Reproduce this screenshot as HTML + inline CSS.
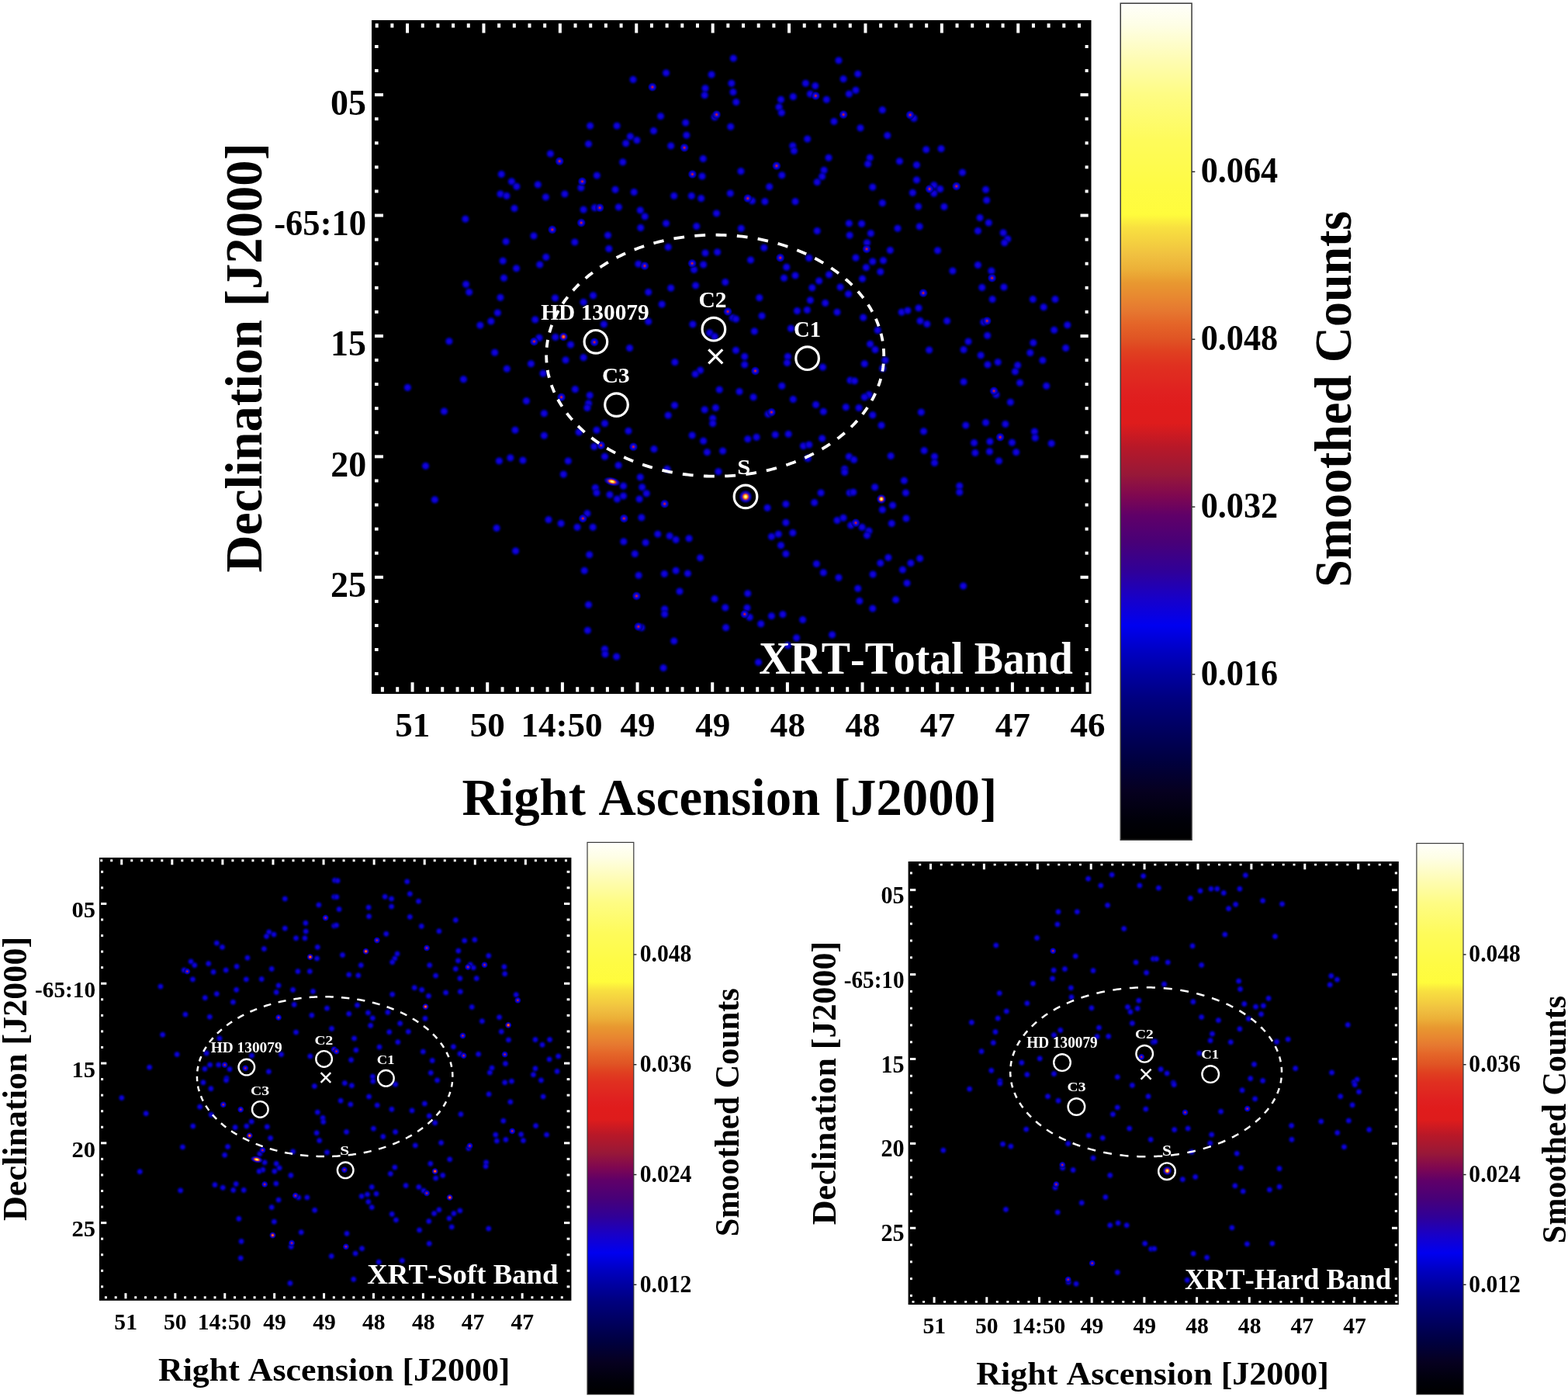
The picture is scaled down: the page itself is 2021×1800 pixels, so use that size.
<!DOCTYPE html>
<html><head><meta charset="utf-8"><title>XRT images</title>
<style>
html,body{margin:0;padding:0;background:#fff;}
body{width:2021px;height:1800px;overflow:hidden;}
svg{display:block;}
text{font-family:"Liberation Serif","Times New Roman",serif;font-weight:bold;font-kerning:none;}
</style></head><body>
<svg xmlns="http://www.w3.org/2000/svg" width="2021" height="1800" viewBox="0 0 2021 1800">
<defs><linearGradient id="cm" x1="0" y1="0" x2="0" y2="1"><stop offset="0.000" stop-color="#fffffa"/><stop offset="0.025" stop-color="#fefee6"/><stop offset="0.066" stop-color="#fefcb4"/><stop offset="0.108" stop-color="#fefc84"/><stop offset="0.164" stop-color="#fefb5a"/><stop offset="0.219" stop-color="#fefb44"/><stop offset="0.252" stop-color="#fffc3c"/><stop offset="0.268" stop-color="#f8e040"/><stop offset="0.285" stop-color="#f4d040"/><stop offset="0.301" stop-color="#f0c040"/><stop offset="0.318" stop-color="#ecb038"/><stop offset="0.334" stop-color="#e89830"/><stop offset="0.351" stop-color="#e88830"/><stop offset="0.367" stop-color="#e67830"/><stop offset="0.384" stop-color="#e46428"/><stop offset="0.401" stop-color="#e05424"/><stop offset="0.416" stop-color="#e04020"/><stop offset="0.433" stop-color="#e03020"/><stop offset="0.450" stop-color="#e02820"/><stop offset="0.466" stop-color="#e02020"/><stop offset="0.482" stop-color="#e01c1c"/><stop offset="0.502" stop-color="#de1c1c"/><stop offset="0.530" stop-color="#b81828"/><stop offset="0.563" stop-color="#981838"/><stop offset="0.588" stop-color="#800850"/><stop offset="0.612" stop-color="#600068"/><stop offset="0.645" stop-color="#480078"/><stop offset="0.679" stop-color="#300098"/><stop offset="0.711" stop-color="#1800c8"/><stop offset="0.744" stop-color="#0000f0"/><stop offset="0.777" stop-color="#0000c0"/><stop offset="0.803" stop-color="#0000a0"/><stop offset="0.831" stop-color="#000080"/><stop offset="0.868" stop-color="#000060"/><stop offset="0.905" stop-color="#000040"/><stop offset="0.942" stop-color="#060020"/><stop offset="0.979" stop-color="#000008"/><stop offset="1.000" stop-color="#000000"/></linearGradient><filter id="bl1" x="-10%" y="-10%" width="120%" height="120%"><feGaussianBlur stdDeviation="1.15"/></filter><filter id="bl2" x="-10%" y="-10%" width="120%" height="120%"><feGaussianBlur stdDeviation="1.05"/></filter><filter id="bl3" x="-10%" y="-10%" width="120%" height="120%"><feGaussianBlur stdDeviation="0.6"/></filter><radialGradient id="db"><stop offset="0" stop-color="#1806e4"/><stop offset="0.4" stop-color="#0c04de"/><stop offset="0.7" stop-color="#00009c" stop-opacity="0.95"/><stop offset="1" stop-color="#000020" stop-opacity="0"/></radialGradient><radialGradient id="dr"><stop offset="0" stop-color="#e8201c"/><stop offset="0.14" stop-color="#b81840"/><stop offset="0.3" stop-color="#3008c8"/><stop offset="0.45" stop-color="#0c04de"/><stop offset="0.7" stop-color="#00009c" stop-opacity="0.95"/><stop offset="1" stop-color="#000020" stop-opacity="0"/></radialGradient><radialGradient id="dy"><stop offset="0" stop-color="#ff8a30"/><stop offset="0.2" stop-color="#f05020"/><stop offset="0.36" stop-color="#a01850"/><stop offset="0.5" stop-color="#1c06d8"/><stop offset="0.72" stop-color="#00009c" stop-opacity="0.95"/><stop offset="1" stop-color="#000020" stop-opacity="0"/></radialGradient><radialGradient id="dw"><stop offset="0" stop-color="#ffffb0"/><stop offset="0.18" stop-color="#ffe040"/><stop offset="0.34" stop-color="#f05020"/><stop offset="0.5" stop-color="#4010c0"/><stop offset="0.72" stop-color="#00009c" stop-opacity="0.95"/><stop offset="1" stop-color="#000020" stop-opacity="0"/></radialGradient></defs>
<rect width="2021" height="1800" fill="#fff"/>
<rect x="479" y="26" width="927.5" height="868" fill="#000"/>
<rect x="483.7" y="30.3" width="4" height="5.3" fill="#fff"/>
<rect x="503.38" y="30.3" width="4" height="5.3" fill="#fff"/>
<rect x="523.06" y="30.3" width="4" height="12.2" fill="#fff"/>
<rect x="542.74" y="30.3" width="4" height="5.3" fill="#fff"/>
<rect x="562.42" y="30.3" width="4" height="5.3" fill="#fff"/>
<rect x="582.1" y="30.3" width="4" height="5.3" fill="#fff"/>
<rect x="601.78" y="30.3" width="4" height="5.3" fill="#fff"/>
<rect x="621.46" y="30.3" width="4" height="12.2" fill="#fff"/>
<rect x="641.14" y="30.3" width="4" height="5.3" fill="#fff"/>
<rect x="660.82" y="30.3" width="4" height="5.3" fill="#fff"/>
<rect x="680.5" y="30.3" width="4" height="5.3" fill="#fff"/>
<rect x="700.18" y="30.3" width="4" height="5.3" fill="#fff"/>
<rect x="719.86" y="30.3" width="4" height="12.2" fill="#fff"/>
<rect x="739.54" y="30.3" width="4" height="5.3" fill="#fff"/>
<rect x="759.22" y="30.3" width="4" height="5.3" fill="#fff"/>
<rect x="778.9" y="30.3" width="4" height="5.3" fill="#fff"/>
<rect x="798.58" y="30.3" width="4" height="5.3" fill="#fff"/>
<rect x="818.26" y="30.3" width="4" height="12.2" fill="#fff"/>
<rect x="837.94" y="30.3" width="4" height="5.3" fill="#fff"/>
<rect x="857.62" y="30.3" width="4" height="5.3" fill="#fff"/>
<rect x="877.3" y="30.3" width="4" height="5.3" fill="#fff"/>
<rect x="896.98" y="30.3" width="4" height="5.3" fill="#fff"/>
<rect x="916.66" y="30.3" width="4" height="12.2" fill="#fff"/>
<rect x="936.34" y="30.3" width="4" height="5.3" fill="#fff"/>
<rect x="956.02" y="30.3" width="4" height="5.3" fill="#fff"/>
<rect x="975.7" y="30.3" width="4" height="5.3" fill="#fff"/>
<rect x="995.38" y="30.3" width="4" height="5.3" fill="#fff"/>
<rect x="1015.06" y="30.3" width="4" height="12.2" fill="#fff"/>
<rect x="1034.74" y="30.3" width="4" height="5.3" fill="#fff"/>
<rect x="1054.42" y="30.3" width="4" height="5.3" fill="#fff"/>
<rect x="1074.1" y="30.3" width="4" height="5.3" fill="#fff"/>
<rect x="1093.78" y="30.3" width="4" height="5.3" fill="#fff"/>
<rect x="1113.46" y="30.3" width="4" height="12.2" fill="#fff"/>
<rect x="1133.14" y="30.3" width="4" height="5.3" fill="#fff"/>
<rect x="1152.82" y="30.3" width="4" height="5.3" fill="#fff"/>
<rect x="1172.5" y="30.3" width="4" height="5.3" fill="#fff"/>
<rect x="1192.18" y="30.3" width="4" height="5.3" fill="#fff"/>
<rect x="1211.86" y="30.3" width="4" height="12.2" fill="#fff"/>
<rect x="1231.54" y="30.3" width="4" height="5.3" fill="#fff"/>
<rect x="1251.22" y="30.3" width="4" height="5.3" fill="#fff"/>
<rect x="1270.9" y="30.3" width="4" height="5.3" fill="#fff"/>
<rect x="1290.58" y="30.3" width="4" height="5.3" fill="#fff"/>
<rect x="1310.26" y="30.3" width="4" height="12.2" fill="#fff"/>
<rect x="1329.94" y="30.3" width="4" height="5.3" fill="#fff"/>
<rect x="1349.62" y="30.3" width="4" height="5.3" fill="#fff"/>
<rect x="1369.3" y="30.3" width="4" height="5.3" fill="#fff"/>
<rect x="1388.98" y="30.3" width="4" height="5.3" fill="#fff"/>
<rect x="490.9" y="885.2" width="4" height="6.3" fill="#fff"/>
<rect x="510.23" y="885.2" width="4" height="6.3" fill="#fff"/>
<rect x="529.57" y="879.2" width="4" height="12.3" fill="#fff"/>
<rect x="548.9" y="885.2" width="4" height="6.3" fill="#fff"/>
<rect x="568.23" y="885.2" width="4" height="6.3" fill="#fff"/>
<rect x="587.56" y="885.2" width="4" height="6.3" fill="#fff"/>
<rect x="606.9" y="885.2" width="4" height="6.3" fill="#fff"/>
<rect x="626.23" y="879.2" width="4" height="12.3" fill="#fff"/>
<rect x="645.56" y="885.2" width="4" height="6.3" fill="#fff"/>
<rect x="664.9" y="885.2" width="4" height="6.3" fill="#fff"/>
<rect x="684.23" y="885.2" width="4" height="6.3" fill="#fff"/>
<rect x="703.56" y="885.2" width="4" height="6.3" fill="#fff"/>
<rect x="722.9" y="879.2" width="4" height="12.3" fill="#fff"/>
<rect x="742.23" y="885.2" width="4" height="6.3" fill="#fff"/>
<rect x="761.56" y="885.2" width="4" height="6.3" fill="#fff"/>
<rect x="780.89" y="885.2" width="4" height="6.3" fill="#fff"/>
<rect x="800.23" y="885.2" width="4" height="6.3" fill="#fff"/>
<rect x="819.56" y="879.2" width="4" height="12.3" fill="#fff"/>
<rect x="838.89" y="885.2" width="4" height="6.3" fill="#fff"/>
<rect x="858.23" y="885.2" width="4" height="6.3" fill="#fff"/>
<rect x="877.56" y="885.2" width="4" height="6.3" fill="#fff"/>
<rect x="896.89" y="885.2" width="4" height="6.3" fill="#fff"/>
<rect x="916.23" y="879.2" width="4" height="12.3" fill="#fff"/>
<rect x="935.56" y="885.2" width="4" height="6.3" fill="#fff"/>
<rect x="954.89" y="885.2" width="4" height="6.3" fill="#fff"/>
<rect x="974.22" y="885.2" width="4" height="6.3" fill="#fff"/>
<rect x="993.56" y="885.2" width="4" height="6.3" fill="#fff"/>
<rect x="1012.89" y="879.2" width="4" height="12.3" fill="#fff"/>
<rect x="1032.22" y="885.2" width="4" height="6.3" fill="#fff"/>
<rect x="1051.56" y="885.2" width="4" height="6.3" fill="#fff"/>
<rect x="1070.89" y="885.2" width="4" height="6.3" fill="#fff"/>
<rect x="1090.22" y="885.2" width="4" height="6.3" fill="#fff"/>
<rect x="1109.56" y="879.2" width="4" height="12.3" fill="#fff"/>
<rect x="1128.89" y="885.2" width="4" height="6.3" fill="#fff"/>
<rect x="1148.22" y="885.2" width="4" height="6.3" fill="#fff"/>
<rect x="1167.55" y="885.2" width="4" height="6.3" fill="#fff"/>
<rect x="1186.89" y="885.2" width="4" height="6.3" fill="#fff"/>
<rect x="1206.22" y="879.2" width="4" height="12.3" fill="#fff"/>
<rect x="1225.55" y="885.2" width="4" height="6.3" fill="#fff"/>
<rect x="1244.89" y="885.2" width="4" height="6.3" fill="#fff"/>
<rect x="1264.22" y="885.2" width="4" height="6.3" fill="#fff"/>
<rect x="1283.55" y="885.2" width="4" height="6.3" fill="#fff"/>
<rect x="1302.89" y="879.2" width="4" height="12.3" fill="#fff"/>
<rect x="1322.22" y="885.2" width="4" height="6.3" fill="#fff"/>
<rect x="1341.55" y="885.2" width="4" height="6.3" fill="#fff"/>
<rect x="1360.88" y="885.2" width="4" height="6.3" fill="#fff"/>
<rect x="1380.22" y="885.2" width="4" height="6.3" fill="#fff"/>
<rect x="1399.55" y="879.2" width="4" height="12.3" fill="#fff"/>
<rect x="483" y="58" width="4.6" height="4" fill="#fff"/>
<rect x="1398.6" y="58" width="4.1" height="4" fill="#fff"/>
<rect x="483" y="89.08" width="4.6" height="4" fill="#fff"/>
<rect x="1398.6" y="89.08" width="4.1" height="4" fill="#fff"/>
<rect x="483" y="120.16" width="11" height="4" fill="#fff"/>
<rect x="1392.5" y="120.16" width="10.2" height="4" fill="#fff"/>
<rect x="483" y="151.24" width="4.6" height="4" fill="#fff"/>
<rect x="1398.6" y="151.24" width="4.1" height="4" fill="#fff"/>
<rect x="483" y="182.32" width="4.6" height="4" fill="#fff"/>
<rect x="1398.6" y="182.32" width="4.1" height="4" fill="#fff"/>
<rect x="483" y="213.4" width="4.6" height="4" fill="#fff"/>
<rect x="1398.6" y="213.4" width="4.1" height="4" fill="#fff"/>
<rect x="483" y="244.48" width="4.6" height="4" fill="#fff"/>
<rect x="1398.6" y="244.48" width="4.1" height="4" fill="#fff"/>
<rect x="483" y="275.56" width="11" height="4" fill="#fff"/>
<rect x="1392.5" y="275.56" width="10.2" height="4" fill="#fff"/>
<rect x="483" y="306.64" width="4.6" height="4" fill="#fff"/>
<rect x="1398.6" y="306.64" width="4.1" height="4" fill="#fff"/>
<rect x="483" y="337.72" width="4.6" height="4" fill="#fff"/>
<rect x="1398.6" y="337.72" width="4.1" height="4" fill="#fff"/>
<rect x="483" y="368.8" width="4.6" height="4" fill="#fff"/>
<rect x="1398.6" y="368.8" width="4.1" height="4" fill="#fff"/>
<rect x="483" y="399.88" width="4.6" height="4" fill="#fff"/>
<rect x="1398.6" y="399.88" width="4.1" height="4" fill="#fff"/>
<rect x="483" y="430.96" width="11" height="4" fill="#fff"/>
<rect x="1392.5" y="430.96" width="10.2" height="4" fill="#fff"/>
<rect x="483" y="462.04" width="4.6" height="4" fill="#fff"/>
<rect x="1398.6" y="462.04" width="4.1" height="4" fill="#fff"/>
<rect x="483" y="493.12" width="4.6" height="4" fill="#fff"/>
<rect x="1398.6" y="493.12" width="4.1" height="4" fill="#fff"/>
<rect x="483" y="524.2" width="4.6" height="4" fill="#fff"/>
<rect x="1398.6" y="524.2" width="4.1" height="4" fill="#fff"/>
<rect x="483" y="555.28" width="4.6" height="4" fill="#fff"/>
<rect x="1398.6" y="555.28" width="4.1" height="4" fill="#fff"/>
<rect x="483" y="586.36" width="11" height="4" fill="#fff"/>
<rect x="1392.5" y="586.36" width="10.2" height="4" fill="#fff"/>
<rect x="483" y="617.44" width="4.6" height="4" fill="#fff"/>
<rect x="1398.6" y="617.44" width="4.1" height="4" fill="#fff"/>
<rect x="483" y="648.52" width="4.6" height="4" fill="#fff"/>
<rect x="1398.6" y="648.52" width="4.1" height="4" fill="#fff"/>
<rect x="483" y="679.6" width="4.6" height="4" fill="#fff"/>
<rect x="1398.6" y="679.6" width="4.1" height="4" fill="#fff"/>
<rect x="483" y="710.68" width="4.6" height="4" fill="#fff"/>
<rect x="1398.6" y="710.68" width="4.1" height="4" fill="#fff"/>
<rect x="483" y="741.76" width="11" height="4" fill="#fff"/>
<rect x="1392.5" y="741.76" width="10.2" height="4" fill="#fff"/>
<rect x="483" y="772.84" width="4.6" height="4" fill="#fff"/>
<rect x="1398.6" y="772.84" width="4.1" height="4" fill="#fff"/>
<rect x="483" y="803.92" width="4.6" height="4" fill="#fff"/>
<rect x="1398.6" y="803.92" width="4.1" height="4" fill="#fff"/>
<rect x="483" y="835" width="4.6" height="4" fill="#fff"/>
<rect x="1398.6" y="835" width="4.1" height="4" fill="#fff"/>
<rect x="483" y="866.08" width="4.6" height="4" fill="#fff"/>
<rect x="1398.6" y="866.08" width="4.1" height="4" fill="#fff"/>
<g filter="url(#bl1)"><circle cx="760.64" cy="162.15" r="6.1" fill="url(#db)"/><circle cx="758.55" cy="185.51" r="6.1" fill="url(#db)"/><circle cx="709.41" cy="198.08" r="6.1" fill="url(#db)"/><circle cx="646.25" cy="224.5" r="6.1" fill="url(#db)"/><circle cx="659.46" cy="233.85" r="6.1" fill="url(#db)"/><circle cx="665.9" cy="240.29" r="6.1" fill="url(#db)"/><circle cx="693.29" cy="237.88" r="6.1" fill="url(#db)"/><circle cx="748.88" cy="241.9" r="6.1" fill="url(#db)"/><circle cx="769.34" cy="226.11" r="6.1" fill="url(#db)"/><circle cx="644.96" cy="249.96" r="6.1" fill="url(#db)"/><circle cx="653.01" cy="252.38" r="6.1" fill="url(#db)"/><circle cx="703.44" cy="253.99" r="6.1" fill="url(#db)"/><circle cx="727.93" cy="249.96" r="6.1" fill="url(#db)"/><circle cx="663" cy="268.49" r="6.1" fill="url(#db)"/><circle cx="752.1" cy="270.1" r="6.1" fill="url(#db)"/><circle cx="766.6" cy="267.68" r="6.1" fill="url(#db)"/><circle cx="599.84" cy="282.19" r="6.1" fill="url(#db)"/><circle cx="687.98" cy="303.94" r="6.1" fill="url(#db)"/><circle cx="652.21" cy="311.19" r="6.1" fill="url(#db)"/><circle cx="740.82" cy="311.99" r="6.1" fill="url(#db)"/><circle cx="783.52" cy="303.13" r="6.1" fill="url(#db)"/><circle cx="648.18" cy="336.14" r="6.1" fill="url(#db)"/><circle cx="665.58" cy="345.81" r="6.1" fill="url(#db)"/><circle cx="695.71" cy="340.97" r="6.1" fill="url(#db)"/><circle cx="703.77" cy="331.31" r="6.1" fill="url(#db)"/><circle cx="649.47" cy="358.21" r="6.1" fill="url(#db)"/><circle cx="600.65" cy="366.27" r="6.1" fill="url(#db)"/><circle cx="604.68" cy="376.42" r="6.1" fill="url(#db)"/><circle cx="644.96" cy="383.35" r="6.1" fill="url(#db)"/><circle cx="641.41" cy="403.01" r="6.1" fill="url(#db)"/><circle cx="632.87" cy="413.96" r="6.1" fill="url(#db)"/><circle cx="618.85" cy="419.12" r="6.1" fill="url(#db)"/><circle cx="689.75" cy="411.87" r="6.1" fill="url(#db)"/><circle cx="715.53" cy="383.99" r="6.1" fill="url(#db)"/><circle cx="752.1" cy="389.31" r="6.1" fill="url(#db)"/><circle cx="764.51" cy="380.77" r="6.1" fill="url(#db)"/><circle cx="778.37" cy="417.83" r="6.1" fill="url(#db)"/><circle cx="784.81" cy="320.51" r="6.1" fill="url(#db)"/><circle cx="578.9" cy="439.74" r="6.1" fill="url(#db)"/><circle cx="694.9" cy="435.23" r="6.1" fill="url(#db)"/><circle cx="715.85" cy="434.43" r="6.1" fill="url(#db)"/><circle cx="735.51" cy="444.09" r="6.1" fill="url(#db)"/><circle cx="637.71" cy="454.24" r="6.1" fill="url(#db)"/><circle cx="684.43" cy="468.74" r="6.1" fill="url(#db)"/><circle cx="729.06" cy="463.91" r="6.1" fill="url(#db)"/><circle cx="752.1" cy="460.69" r="6.1" fill="url(#db)"/><circle cx="653.33" cy="475.19" r="6.1" fill="url(#db)"/><circle cx="700.06" cy="481.15" r="6.1" fill="url(#db)"/><circle cx="597.43" cy="488.72" r="6.1" fill="url(#db)"/><circle cx="525.4" cy="499.36" r="6.1" fill="url(#db)"/><circle cx="741.31" cy="501.61" r="6.1" fill="url(#db)"/><circle cx="760.16" cy="509.35" r="6.1" fill="url(#db)"/><circle cx="758.55" cy="519.82" r="6.1" fill="url(#db)"/><circle cx="756.94" cy="525.46" r="6.1" fill="url(#db)"/><circle cx="678.47" cy="516.6" r="6.1" fill="url(#db)"/><circle cx="572.45" cy="529.97" r="6.1" fill="url(#db)"/><circle cx="701.35" cy="532.71" r="6.1" fill="url(#db)"/><circle cx="779.49" cy="545.6" r="6.1" fill="url(#db)"/><circle cx="663.97" cy="554.14" r="6.1" fill="url(#db)"/><circle cx="701.35" cy="561.23" r="6.1" fill="url(#db)"/><circle cx="746.14" cy="556.88" r="6.1" fill="url(#db)"/><circle cx="769.02" cy="554.14" r="6.1" fill="url(#db)"/><circle cx="765.8" cy="575.41" r="6.1" fill="url(#db)"/><circle cx="779.49" cy="588.3" r="6.1" fill="url(#db)"/><circle cx="643.35" cy="593.94" r="6.1" fill="url(#db)"/><circle cx="657.85" cy="589.91" r="6.1" fill="url(#db)"/><circle cx="673.96" cy="593.13" r="6.1" fill="url(#db)"/><circle cx="732.28" cy="593.94" r="6.1" fill="url(#db)"/><circle cx="548.6" cy="600.38" r="6.1" fill="url(#db)"/><circle cx="726.32" cy="611.16" r="6.1" fill="url(#db)"/><circle cx="767.41" cy="628.56" r="6.1" fill="url(#db)"/><circle cx="769.02" cy="635" r="6.1" fill="url(#db)"/><circle cx="785.94" cy="637.42" r="6.1" fill="url(#db)"/><circle cx="560.37" cy="643.86" r="6.1" fill="url(#db)"/><circle cx="640.12" cy="680.44" r="6.1" fill="url(#db)"/><circle cx="706.99" cy="669.64" r="6.1" fill="url(#db)"/><circle cx="723.1" cy="674.48" r="6.1" fill="url(#db)"/><circle cx="744.05" cy="679.31" r="6.1" fill="url(#db)"/><circle cx="756.94" cy="661.59" r="6.1" fill="url(#db)"/><circle cx="764.19" cy="679.31" r="6.1" fill="url(#db)"/><circle cx="664.61" cy="709.92" r="6.1" fill="url(#db)"/><circle cx="759.68" cy="714.76" r="6.1" fill="url(#db)"/><circle cx="753.23" cy="735.22" r="6.1" fill="url(#db)"/><circle cx="758.55" cy="779.21" r="6.1" fill="url(#db)"/><circle cx="757.42" cy="812.24" r="6.1" fill="url(#db)"/><circle cx="779.49" cy="836.41" r="6.1" fill="url(#db)"/><circle cx="779.98" cy="842.85" r="6.1" fill="url(#db)"/><circle cx="945.29" cy="75.14" r="6.1" fill="url(#db)"/><circle cx="1080.95" cy="77.88" r="6.1" fill="url(#db)"/><circle cx="858.6" cy="93.99" r="6.1" fill="url(#db)"/><circle cx="816.07" cy="102.53" r="6.1" fill="url(#db)"/><circle cx="917.09" cy="96.09" r="6.1" fill="url(#db)"/><circle cx="942.87" cy="107.37" r="6.1" fill="url(#db)"/><circle cx="909.04" cy="113.81" r="6.1" fill="url(#db)"/><circle cx="908.23" cy="122.67" r="6.1" fill="url(#db)"/><circle cx="944.97" cy="118.65" r="6.1" fill="url(#db)"/><circle cx="948.83" cy="131.54" r="6.1" fill="url(#db)"/><circle cx="1006.52" cy="128.31" r="6.1" fill="url(#db)"/><circle cx="1004.1" cy="137.98" r="6.1" fill="url(#db)"/><circle cx="1007.32" cy="145.23" r="6.1" fill="url(#db)"/><circle cx="1022.31" cy="124.61" r="6.1" fill="url(#db)"/><circle cx="1038.42" cy="107.37" r="6.1" fill="url(#db)"/><circle cx="1050.82" cy="110.59" r="6.1" fill="url(#db)"/><circle cx="1044.38" cy="121.06" r="6.1" fill="url(#db)"/><circle cx="1065.33" cy="128.31" r="6.1" fill="url(#db)"/><circle cx="1087.08" cy="101.73" r="6.1" fill="url(#db)"/><circle cx="1094.33" cy="121.06" r="6.1" fill="url(#db)"/><circle cx="1074.99" cy="156.51" r="6.1" fill="url(#db)"/><circle cx="921.12" cy="150.87" r="6.1" fill="url(#db)"/><circle cx="851.52" cy="149.74" r="6.1" fill="url(#db)"/><circle cx="795.12" cy="162.15" r="6.1" fill="url(#db)"/><circle cx="883.74" cy="158.12" r="6.1" fill="url(#db)"/><circle cx="941.74" cy="163.28" r="6.1" fill="url(#db)"/><circle cx="842.49" cy="168.59" r="6.1" fill="url(#db)"/><circle cx="812.36" cy="175.84" r="6.1" fill="url(#db)"/><circle cx="806.72" cy="184.71" r="6.1" fill="url(#db)"/><circle cx="820.9" cy="180.68" r="6.1" fill="url(#db)"/><circle cx="884.87" cy="174.23" r="6.1" fill="url(#db)"/><circle cx="864.73" cy="187.93" r="6.1" fill="url(#db)"/><circle cx="1040.67" cy="179.07" r="6.1" fill="url(#db)"/><circle cx="1021.82" cy="187.93" r="6.1" fill="url(#db)"/><circle cx="1023.43" cy="194.37" r="6.1" fill="url(#db)"/><circle cx="906.3" cy="204.52" r="6.1" fill="url(#db)"/><circle cx="802.7" cy="208.87" r="6.1" fill="url(#db)"/><circle cx="1068.06" cy="203.23" r="6.1" fill="url(#db)"/><circle cx="1007.8" cy="225.79" r="6.1" fill="url(#db)"/><circle cx="954.96" cy="220.64" r="6.1" fill="url(#db)"/><circle cx="905.01" cy="227.08" r="6.1" fill="url(#db)"/><circle cx="1062.1" cy="219.35" r="6.1" fill="url(#db)"/><circle cx="1059.69" cy="227.4" r="6.1" fill="url(#db)"/><circle cx="1053.24" cy="234.65" r="6.1" fill="url(#db)"/><circle cx="991.69" cy="240.62" r="6.1" fill="url(#db)"/><circle cx="793.03" cy="244.32" r="6.1" fill="url(#db)"/><circle cx="817.2" cy="247.54" r="6.1" fill="url(#db)"/><circle cx="868.76" cy="252.38" r="6.1" fill="url(#db)"/><circle cx="891.31" cy="252.38" r="6.1" fill="url(#db)"/><circle cx="903.72" cy="255.6" r="6.1" fill="url(#db)"/><circle cx="941.26" cy="249.15" r="6.1" fill="url(#db)"/><circle cx="969.46" cy="258.82" r="6.1" fill="url(#db)"/><circle cx="985.89" cy="259.63" r="6.1" fill="url(#db)"/><circle cx="1025.04" cy="259.63" r="6.1" fill="url(#db)"/><circle cx="797.38" cy="266.88" r="6.1" fill="url(#db)"/><circle cx="825.25" cy="270.91" r="6.1" fill="url(#db)"/><circle cx="831.21" cy="278.96" r="6.1" fill="url(#db)"/><circle cx="923.54" cy="274.93" r="6.1" fill="url(#db)"/><circle cx="858.6" cy="287.82" r="6.1" fill="url(#db)"/><circle cx="825.74" cy="293.46" r="6.1" fill="url(#db)"/><circle cx="897.76" cy="291.53" r="6.1" fill="url(#db)"/><circle cx="955.28" cy="294.27" r="6.1" fill="url(#db)"/><circle cx="1053.24" cy="297.49" r="6.1" fill="url(#db)"/><circle cx="1094.33" cy="287.82" r="6.1" fill="url(#db)"/><circle cx="1095.13" cy="303.13" r="6.1" fill="url(#db)"/><circle cx="861.18" cy="318.42" r="6.1" fill="url(#db)"/><circle cx="909.04" cy="325.99" r="6.1" fill="url(#db)"/><circle cx="924.67" cy="324.86" r="6.1" fill="url(#db)"/><circle cx="984.76" cy="319.22" r="6.1" fill="url(#db)"/><circle cx="822.84" cy="340.17" r="6.1" fill="url(#db)"/><circle cx="894.54" cy="347.42" r="6.1" fill="url(#db)"/><circle cx="906.62" cy="340.97" r="6.1" fill="url(#db)"/><circle cx="967.52" cy="335.01" r="6.1" fill="url(#db)"/><circle cx="1013.77" cy="344.2" r="6.1" fill="url(#db)"/><circle cx="1010.54" cy="358.21" r="6.1" fill="url(#db)"/><circle cx="1025.04" cy="354.99" r="6.1" fill="url(#db)"/><circle cx="1042.77" cy="332.43" r="6.1" fill="url(#db)"/><circle cx="1068.55" cy="353.86" r="6.1" fill="url(#db)"/><circle cx="1055.66" cy="361.92" r="6.1" fill="url(#db)"/><circle cx="1046.8" cy="370.78" r="6.1" fill="url(#db)"/><circle cx="1083.05" cy="369.98" r="6.1" fill="url(#db)"/><circle cx="1093.52" cy="378.84" r="6.1" fill="url(#db)"/><circle cx="896.63" cy="367.88" r="6.1" fill="url(#db)"/><circle cx="934.82" cy="363.53" r="6.1" fill="url(#db)"/><circle cx="864.73" cy="371.1" r="6.1" fill="url(#db)"/><circle cx="835.73" cy="376.42" r="6.1" fill="url(#db)"/><circle cx="978.8" cy="383.67" r="6.1" fill="url(#db)"/><circle cx="853.13" cy="392.05" r="6.1" fill="url(#db)"/><circle cx="1044.38" cy="386.89" r="6.1" fill="url(#db)"/><circle cx="1063.71" cy="390.44" r="6.1" fill="url(#db)"/><circle cx="1027.46" cy="400.59" r="6.1" fill="url(#db)"/><circle cx="1040.35" cy="399.46" r="6.1" fill="url(#db)"/><circle cx="1079.02" cy="402.2" r="6.1" fill="url(#db)"/><circle cx="944.48" cy="409.45" r="6.1" fill="url(#db)"/><circle cx="948.51" cy="411.06" r="6.1" fill="url(#db)"/><circle cx="982.02" cy="407.03" r="6.1" fill="url(#db)"/><circle cx="835.73" cy="414.28" r="6.1" fill="url(#db)"/><circle cx="892.92" cy="417.83" r="6.1" fill="url(#db)"/><circle cx="972.36" cy="426.85" r="6.1" fill="url(#db)"/><circle cx="1019.41" cy="423.15" r="6.1" fill="url(#db)"/><circle cx="914.68" cy="428.79" r="6.1" fill="url(#db)"/><circle cx="921.12" cy="433.62" r="6.1" fill="url(#db)"/><circle cx="811.56" cy="448.44" r="6.1" fill="url(#db)"/><circle cx="948.51" cy="451.34" r="6.1" fill="url(#db)"/><circle cx="959.79" cy="459.4" r="6.1" fill="url(#db)"/><circle cx="959.79" cy="469.87" r="6.1" fill="url(#db)"/><circle cx="1015.38" cy="459.4" r="6.1" fill="url(#db)"/><circle cx="1014.57" cy="467.46" r="6.1" fill="url(#db)"/><circle cx="1060.49" cy="473.09" r="6.1" fill="url(#db)"/><circle cx="869.88" cy="466.65" r="6.1" fill="url(#db)"/><circle cx="902.59" cy="477.12" r="6.1" fill="url(#db)"/><circle cx="896.15" cy="481.96" r="6.1" fill="url(#db)"/><circle cx="1095.94" cy="490.01" r="6.1" fill="url(#db)"/><circle cx="1007.8" cy="497.26" r="6.1" fill="url(#db)"/><circle cx="927.24" cy="502.1" r="6.1" fill="url(#db)"/><circle cx="953.02" cy="504.51" r="6.1" fill="url(#db)"/><circle cx="971.07" cy="511.76" r="6.1" fill="url(#db)"/><circle cx="1022.31" cy="514.5" r="6.1" fill="url(#db)"/><circle cx="1051.63" cy="521.43" r="6.1" fill="url(#db)"/><circle cx="1061.3" cy="530.29" r="6.1" fill="url(#db)"/><circle cx="1090.3" cy="524.65" r="6.1" fill="url(#db)"/><circle cx="869.56" cy="522.24" r="6.1" fill="url(#db)"/><circle cx="908.23" cy="527.88" r="6.1" fill="url(#db)"/><circle cx="922.41" cy="525.46" r="6.1" fill="url(#db)"/><circle cx="861.18" cy="535.13" r="6.1" fill="url(#db)"/><circle cx="918.7" cy="539.15" r="6.1" fill="url(#db)"/><circle cx="918.7" cy="545.6" r="6.1" fill="url(#db)"/><circle cx="990.08" cy="533.52" r="6.1" fill="url(#db)"/><circle cx="809.95" cy="555.27" r="6.1" fill="url(#db)"/><circle cx="892.12" cy="560.91" r="6.1" fill="url(#db)"/><circle cx="906.62" cy="568.16" r="6.1" fill="url(#db)"/><circle cx="963.82" cy="565.74" r="6.1" fill="url(#db)"/><circle cx="975.1" cy="563.32" r="6.1" fill="url(#db)"/><circle cx="999.27" cy="560.1" r="6.1" fill="url(#db)"/><circle cx="1016.18" cy="559.3" r="6.1" fill="url(#db)"/><circle cx="1059.69" cy="564.93" r="6.1" fill="url(#db)"/><circle cx="1035.52" cy="574.6" r="6.1" fill="url(#db)"/><circle cx="1042.77" cy="572.99" r="6.1" fill="url(#db)"/><circle cx="842.98" cy="578.63" r="6.1" fill="url(#db)"/><circle cx="911.45" cy="582.66" r="6.1" fill="url(#db)"/><circle cx="931.59" cy="581.05" r="6.1" fill="url(#db)"/><circle cx="1041.16" cy="590.71" r="6.1" fill="url(#db)"/><circle cx="1094.33" cy="588.3" r="6.1" fill="url(#db)"/><circle cx="797.06" cy="599.58" r="6.1" fill="url(#db)"/><circle cx="859.89" cy="604.41" r="6.1" fill="url(#db)"/><circle cx="1088.69" cy="604.41" r="6.1" fill="url(#db)"/><circle cx="825.25" cy="614.86" r="6.1" fill="url(#db)"/><circle cx="925.95" cy="607.61" r="6.1" fill="url(#db)"/><circle cx="1088.69" cy="608.42" r="6.1" fill="url(#db)"/><circle cx="803.5" cy="626.14" r="6.1" fill="url(#db)"/><circle cx="827.67" cy="627.75" r="6.1" fill="url(#db)"/><circle cx="833.31" cy="635.81" r="6.1" fill="url(#db)"/><circle cx="795.44" cy="643.06" r="6.1" fill="url(#db)"/><circle cx="803.5" cy="639.03" r="6.1" fill="url(#db)"/><circle cx="824.12" cy="643.06" r="6.1" fill="url(#db)"/><circle cx="826.86" cy="666.9" r="6.1" fill="url(#db)"/><circle cx="847.81" cy="688.17" r="6.1" fill="url(#db)"/><circle cx="863.12" cy="690.59" r="6.1" fill="url(#db)"/><circle cx="871.17" cy="695.42" r="6.1" fill="url(#db)"/><circle cx="888.09" cy="693.81" r="6.1" fill="url(#db)"/><circle cx="803.82" cy="697.84" r="6.1" fill="url(#db)"/><circle cx="832.18" cy="699.13" r="6.1" fill="url(#db)"/><circle cx="818.32" cy="713.63" r="6.1" fill="url(#db)"/><circle cx="902.59" cy="718.79" r="6.1" fill="url(#db)"/><circle cx="823.16" cy="741.34" r="6.1" fill="url(#db)"/><circle cx="856.35" cy="739.41" r="6.1" fill="url(#db)"/><circle cx="871.17" cy="735.22" r="6.1" fill="url(#db)"/><circle cx="886.48" cy="738.93" r="6.1" fill="url(#db)"/><circle cx="876.01" cy="761.97" r="6.1" fill="url(#db)"/><circle cx="921.12" cy="771.63" r="6.1" fill="url(#db)"/><circle cx="934.82" cy="782.91" r="6.1" fill="url(#db)"/><circle cx="963.82" cy="764.71" r="6.1" fill="url(#db)"/><circle cx="963.01" cy="783.23" r="6.1" fill="url(#db)"/><circle cx="966.23" cy="795.32" r="6.1" fill="url(#db)"/><circle cx="980.74" cy="803.86" r="6.1" fill="url(#db)"/><circle cx="994.43" cy="793.71" r="6.1" fill="url(#db)"/><circle cx="1008.93" cy="791.61" r="6.1" fill="url(#db)"/><circle cx="1034.71" cy="798.54" r="6.1" fill="url(#db)"/><circle cx="856.67" cy="784.85" r="6.1" fill="url(#db)"/><circle cx="856.67" cy="791.29" r="6.1" fill="url(#db)"/><circle cx="826.86" cy="808.69" r="6.1" fill="url(#db)"/><circle cx="935.62" cy="808.69" r="6.1" fill="url(#db)"/><circle cx="868.76" cy="825.93" r="6.1" fill="url(#db)"/><circle cx="794.64" cy="846.07" r="6.1" fill="url(#db)"/><circle cx="855.06" cy="860.57" r="6.1" fill="url(#db)"/><circle cx="977.51" cy="853.32" r="6.1" fill="url(#db)"/><circle cx="1015.38" cy="831.57" r="6.1" fill="url(#db)"/><circle cx="1026.66" cy="821.9" r="6.1" fill="url(#db)"/><circle cx="1072.58" cy="817.88" r="6.1" fill="url(#db)"/><circle cx="989.11" cy="654.34" r="6.1" fill="url(#db)"/><circle cx="1012.96" cy="649.5" r="6.1" fill="url(#db)"/><circle cx="1049.7" cy="647.57" r="6.1" fill="url(#db)"/><circle cx="1058.07" cy="635" r="6.1" fill="url(#db)"/><circle cx="1095.13" cy="635" r="6.1" fill="url(#db)"/><circle cx="1012.96" cy="673.35" r="6.1" fill="url(#db)"/><circle cx="1021.82" cy="686.56" r="6.1" fill="url(#db)"/><circle cx="994.43" cy="691.4" r="6.1" fill="url(#db)"/><circle cx="1003.29" cy="688.17" r="6.1" fill="url(#db)"/><circle cx="1006.52" cy="702.67" r="6.1" fill="url(#db)"/><circle cx="1012.96" cy="713.63" r="6.1" fill="url(#db)"/><circle cx="1079.02" cy="670.45" r="6.1" fill="url(#db)"/><circle cx="1087.08" cy="667.23" r="6.1" fill="url(#db)"/><circle cx="1096.74" cy="676.89" r="6.1" fill="url(#db)"/><circle cx="1052.44" cy="726.52" r="6.1" fill="url(#db)"/><circle cx="1061.3" cy="737.8" r="6.1" fill="url(#db)"/><circle cx="1080.95" cy="744.24" r="6.1" fill="url(#db)"/><circle cx="1105.77" cy="95.28" r="6.1" fill="url(#db)"/><circle cx="1103.03" cy="116.23" r="6.1" fill="url(#db)"/><circle cx="1137.35" cy="141.69" r="6.1" fill="url(#db)"/><circle cx="1177.95" cy="152.48" r="6.1" fill="url(#db)"/><circle cx="1108.99" cy="164.89" r="6.1" fill="url(#db)"/><circle cx="1143.79" cy="174.56" r="6.1" fill="url(#db)"/><circle cx="1193.74" cy="192.76" r="6.1" fill="url(#db)"/><circle cx="1213.07" cy="191.63" r="6.1" fill="url(#db)"/><circle cx="1121.23" cy="203.23" r="6.1" fill="url(#db)"/><circle cx="1118.66" cy="211.29" r="6.1" fill="url(#db)"/><circle cx="1159.42" cy="207.75" r="6.1" fill="url(#db)"/><circle cx="1181.49" cy="212.58" r="6.1" fill="url(#db)"/><circle cx="1240.47" cy="222.25" r="6.1" fill="url(#db)"/><circle cx="1181.49" cy="231.91" r="6.1" fill="url(#db)"/><circle cx="1124.78" cy="241.1" r="6.1" fill="url(#db)"/><circle cx="1176.34" cy="248.35" r="6.1" fill="url(#db)"/><circle cx="1203.73" cy="238.68" r="6.1" fill="url(#db)"/><circle cx="1211.79" cy="243.52" r="6.1" fill="url(#db)"/><circle cx="1203.73" cy="249.15" r="6.1" fill="url(#db)"/><circle cx="1270.6" cy="244.32" r="6.1" fill="url(#db)"/><circle cx="1271.72" cy="258.02" r="6.1" fill="url(#db)"/><circle cx="1137.35" cy="261.56" r="6.1" fill="url(#db)"/><circle cx="1183.59" cy="266.07" r="6.1" fill="url(#db)"/><circle cx="1216.94" cy="266.4" r="6.1" fill="url(#db)"/><circle cx="1263.02" cy="280.57" r="6.1" fill="url(#db)"/><circle cx="1274.3" cy="287.02" r="6.1" fill="url(#db)"/><circle cx="1110.6" cy="288.31" r="6.1" fill="url(#db)"/><circle cx="1157" cy="294.27" r="6.1" fill="url(#db)"/><circle cx="1185.2" cy="291.85" r="6.1" fill="url(#db)"/><circle cx="1122.36" cy="300.71" r="6.1" fill="url(#db)"/><circle cx="1260.44" cy="297.49" r="6.1" fill="url(#db)"/><circle cx="1293.15" cy="299.91" r="6.1" fill="url(#db)"/><circle cx="1298.79" cy="307.96" r="6.1" fill="url(#db)"/><circle cx="1294.76" cy="312.8" r="6.1" fill="url(#db)"/><circle cx="1117.53" cy="312.8" r="6.1" fill="url(#db)"/><circle cx="1147.34" cy="322.44" r="6.1" fill="url(#db)"/><circle cx="1208.56" cy="322.77" r="6.1" fill="url(#db)"/><circle cx="1103.03" cy="332.11" r="6.1" fill="url(#db)"/><circle cx="1124.78" cy="336.95" r="6.1" fill="url(#db)"/><circle cx="1138.48" cy="335.66" r="6.1" fill="url(#db)"/><circle cx="1116.4" cy="344.68" r="6.1" fill="url(#db)"/><circle cx="1134.77" cy="350.16" r="6.1" fill="url(#db)"/><circle cx="1111.57" cy="359.18" r="6.1" fill="url(#db)"/><circle cx="1260.44" cy="341.46" r="6.1" fill="url(#db)"/><circle cx="1227.9" cy="349.03" r="6.1" fill="url(#db)"/><circle cx="1277.85" cy="349.03" r="6.1" fill="url(#db)"/><circle cx="1265.76" cy="370.46" r="6.1" fill="url(#db)"/><circle cx="1293.96" cy="369.98" r="6.1" fill="url(#db)"/><circle cx="1279.14" cy="385.6" r="6.1" fill="url(#db)"/><circle cx="1331.34" cy="385.6" r="6.1" fill="url(#db)"/><circle cx="1360.02" cy="385.6" r="6.1" fill="url(#db)"/><circle cx="1345.2" cy="395.76" r="6.1" fill="url(#db)"/><circle cx="1162.16" cy="402.2" r="6.1" fill="url(#db)"/><circle cx="1169.89" cy="400.11" r="6.1" fill="url(#db)"/><circle cx="1184.07" cy="396.88" r="6.1" fill="url(#db)"/><circle cx="1112.7" cy="409.13" r="6.1" fill="url(#db)"/><circle cx="1186.01" cy="413.48" r="6.1" fill="url(#db)"/><circle cx="1194.87" cy="417.51" r="6.1" fill="url(#db)"/><circle cx="1220.65" cy="413.48" r="6.1" fill="url(#db)"/><circle cx="1267.86" cy="415.09" r="6.1" fill="url(#db)"/><circle cx="1358.73" cy="425.24" r="6.1" fill="url(#db)"/><circle cx="1375.81" cy="418.8" r="6.1" fill="url(#db)"/><circle cx="1131.22" cy="425.56" r="6.1" fill="url(#db)"/><circle cx="1272.69" cy="432.33" r="6.1" fill="url(#db)"/><circle cx="1248.04" cy="440.06" r="6.1" fill="url(#db)"/><circle cx="1242.08" cy="450.54" r="6.1" fill="url(#db)"/><circle cx="1121.56" cy="443.29" r="6.1" fill="url(#db)"/><circle cx="1128" cy="450.54" r="6.1" fill="url(#db)"/><circle cx="1197.61" cy="451.02" r="6.1" fill="url(#db)"/><circle cx="1331.82" cy="441.68" r="6.1" fill="url(#db)"/><circle cx="1327.79" cy="454.57" r="6.1" fill="url(#db)"/><circle cx="1373.71" cy="448.44" r="6.1" fill="url(#db)"/><circle cx="1264.15" cy="457.79" r="6.1" fill="url(#db)"/><circle cx="1273.01" cy="469.87" r="6.1" fill="url(#db)"/><circle cx="1286.22" cy="466.65" r="6.1" fill="url(#db)"/><circle cx="1343.91" cy="464.23" r="6.1" fill="url(#db)"/><circle cx="1311.68" cy="470.68" r="6.1" fill="url(#db)"/><circle cx="1308.46" cy="478.73" r="6.1" fill="url(#db)"/><circle cx="1140.89" cy="464.23" r="6.1" fill="url(#db)"/><circle cx="1114.31" cy="468.74" r="6.1" fill="url(#db)"/><circle cx="1137.67" cy="474.71" r="6.1" fill="url(#db)"/><circle cx="1101.42" cy="490.82" r="6.1" fill="url(#db)"/><circle cx="1242.08" cy="491.95" r="6.1" fill="url(#db)"/><circle cx="1314.58" cy="493.23" r="6.1" fill="url(#db)"/><circle cx="1348.74" cy="497.26" r="6.1" fill="url(#db)"/><circle cx="1283.97" cy="508.54" r="6.1" fill="url(#db)"/><circle cx="1302.34" cy="518.21" r="6.1" fill="url(#db)"/><circle cx="1119.95" cy="508.54" r="6.1" fill="url(#db)"/><circle cx="1114.31" cy="511.76" r="6.1" fill="url(#db)"/><circle cx="1107.06" cy="525.46" r="6.1" fill="url(#db)"/><circle cx="1124.78" cy="534.8" r="6.1" fill="url(#db)"/><circle cx="1187.3" cy="531.1" r="6.1" fill="url(#db)"/><circle cx="1136.06" cy="548.02" r="6.1" fill="url(#db)"/><circle cx="1244.82" cy="548.02" r="6.1" fill="url(#db)"/><circle cx="1270.6" cy="544.47" r="6.1" fill="url(#db)"/><circle cx="1295.89" cy="546.41" r="6.1" fill="url(#db)"/><circle cx="1190.52" cy="555.75" r="6.1" fill="url(#db)"/><circle cx="1333.43" cy="556.07" r="6.1" fill="url(#db)"/><circle cx="1334.24" cy="564.13" r="6.1" fill="url(#db)"/><circle cx="1355.19" cy="571.38" r="6.1" fill="url(#db)"/><circle cx="1275.91" cy="568.96" r="6.1" fill="url(#db)"/><circle cx="1255.61" cy="570.57" r="6.1" fill="url(#db)"/><circle cx="1304.43" cy="570.25" r="6.1" fill="url(#db)"/><circle cx="1256.9" cy="583.46" r="6.1" fill="url(#db)"/><circle cx="1275.43" cy="581.85" r="6.1" fill="url(#db)"/><circle cx="1309.75" cy="582.66" r="6.1" fill="url(#db)"/><circle cx="1191.16" cy="580.56" r="6.1" fill="url(#db)"/><circle cx="1148.14" cy="587.49" r="6.1" fill="url(#db)"/><circle cx="1204.54" cy="588.3" r="6.1" fill="url(#db)"/><circle cx="1204.54" cy="596.35" r="6.1" fill="url(#db)"/><circle cx="1287.51" cy="593.94" r="6.1" fill="url(#db)"/><circle cx="1100.61" cy="592.33" r="6.1" fill="url(#db)"/><circle cx="1165.38" cy="619.21" r="6.1" fill="url(#db)"/><circle cx="1127.68" cy="627.75" r="6.1" fill="url(#db)"/><circle cx="1167.48" cy="635" r="6.1" fill="url(#db)"/><circle cx="1099.81" cy="634.2" r="6.1" fill="url(#db)"/><circle cx="1150.56" cy="651.11" r="6.1" fill="url(#db)"/><circle cx="1137.35" cy="656.75" r="6.1" fill="url(#db)"/><circle cx="1167.96" cy="668.03" r="6.1" fill="url(#db)"/><circle cx="1149.27" cy="674.48" r="6.1" fill="url(#db)"/><circle cx="1111.08" cy="679.31" r="6.1" fill="url(#db)"/><circle cx="1119.95" cy="684.14" r="6.1" fill="url(#db)"/><circle cx="1117.53" cy="689.78" r="6.1" fill="url(#db)"/><circle cx="1236.76" cy="626.14" r="6.1" fill="url(#db)"/><circle cx="1236.76" cy="634.2" r="6.1" fill="url(#db)"/><circle cx="1144.92" cy="718.46" r="6.1" fill="url(#db)"/><circle cx="1134.77" cy="725.55" r="6.1" fill="url(#db)"/><circle cx="1185.68" cy="719.59" r="6.1" fill="url(#db)"/><circle cx="1173.92" cy="725.55" r="6.1" fill="url(#db)"/><circle cx="1163.45" cy="734.09" r="6.1" fill="url(#db)"/><circle cx="1125.1" cy="740.05" r="6.1" fill="url(#db)"/><circle cx="1169.09" cy="751.33" r="6.1" fill="url(#db)"/><circle cx="1241.59" cy="755.04" r="6.1" fill="url(#db)"/><circle cx="1105.77" cy="758.26" r="6.1" fill="url(#db)"/><circle cx="1107.86" cy="774.37" r="6.1" fill="url(#db)"/><circle cx="1154.59" cy="772.76" r="6.1" fill="url(#db)"/><circle cx="1124.78" cy="784.04" r="6.1" fill="url(#db)"/></g><g filter="url(#bl3)"><circle cx="721.17" cy="207.75" r="6.41" fill="url(#dr)"/><circle cx="750.49" cy="233.85" r="6.41" fill="url(#dr)"/><circle cx="773.05" cy="267.68" r="6.41" fill="url(#dr)"/><circle cx="749.2" cy="287.02" r="6.41" fill="url(#dr)"/><circle cx="711.82" cy="295.88" r="6.41" fill="url(#dr)"/><circle cx="688.46" cy="440.06" r="6.41" fill="url(#dr)"/><circle cx="726.32" cy="433.94" r="6.41" fill="url(#dy)"/><circle cx="766.12" cy="440.87" r="6.41" fill="url(#dr)"/><circle cx="723.58" cy="511.76" r="6.41" fill="url(#dr)"/><circle cx="774.66" cy="573.8" r="6.41" fill="url(#dr)"/><circle cx="751.3" cy="668.03" r="6.41" fill="url(#dr)"/><circle cx="840.88" cy="112.2" r="6.41" fill="url(#dr)"/><circle cx="1051.31" cy="123.48" r="6.41" fill="url(#dr)"/><circle cx="1087.08" cy="147.65" r="6.41" fill="url(#dr)"/><circle cx="923.54" cy="147.65" r="6.41" fill="url(#dr)"/><circle cx="882.13" cy="190.35" r="6.41" fill="url(#dr)"/><circle cx="1000.88" cy="213.71" r="6.41" fill="url(#dr)"/><circle cx="892.44" cy="224.5" r="6.41" fill="url(#dr)"/><circle cx="963.82" cy="255.6" r="6.41" fill="url(#dr)"/><circle cx="830.89" cy="342.59" r="6.41" fill="url(#dr)"/><circle cx="892.12" cy="339.36" r="6.41" fill="url(#dr)"/><circle cx="1005.71" cy="332.11" r="6.41" fill="url(#dr)"/><circle cx="938.04" cy="401.4" r="6.41" fill="url(#dr)"/><circle cx="973.49" cy="477.93" r="6.41" fill="url(#dr)"/><circle cx="994.43" cy="531.1" r="6.41" fill="url(#dr)"/><circle cx="816.39" cy="575.73" r="6.41" fill="url(#dr)"/><circle cx="856.67" cy="649.18" r="6.41" fill="url(#dr)"/><circle cx="804.31" cy="668.03" r="6.41" fill="url(#dr)"/><circle cx="820.42" cy="767.93" r="6.41" fill="url(#dr)"/><circle cx="959.79" cy="791.29" r="6.41" fill="url(#dr)"/><circle cx="822.84" cy="807.4" r="6.41" fill="url(#dr)"/><circle cx="1173.12" cy="148.13" r="6.41" fill="url(#dr)"/><circle cx="1198.09" cy="243.52" r="6.41" fill="url(#dr)"/><circle cx="1232.73" cy="239.97" r="6.41" fill="url(#dr)"/><circle cx="1117.05" cy="320.83" r="6.41" fill="url(#dr)"/><circle cx="1278.65" cy="358.21" r="6.41" fill="url(#dr)"/><circle cx="1190.03" cy="377.55" r="6.41" fill="url(#dr)"/><circle cx="1272.21" cy="413.48" r="6.41" fill="url(#dr)"/><circle cx="1281.07" cy="503.71" r="6.41" fill="url(#dr)"/><circle cx="1289.12" cy="563.32" r="6.41" fill="url(#dr)"/><circle cx="1103.03" cy="673.67" r="6.41" fill="url(#dr)"/><circle cx="961" cy="640" r="9.46" fill="url(#dw)"/><ellipse cx="789" cy="620.5" rx="12.2" ry="6.1" transform="rotate(14 789 620.5)" fill="url(#dw)"/><circle cx="1136" cy="643" r="7.01" fill="url(#dw)"/></g>
<path d="M922.57 302.7L926.05 302.73L929.53 302.8L933 302.91L936.48 303.06M949.82 304.01L953.27 304.35L956.71 304.73L960.14 305.15L963.56 305.61M976.63 307.74L979.99 308.39L983.34 309.07L986.67 309.8L989.98 310.56M1002.57 313.85L1005.79 314.79L1008.99 315.77L1012.17 316.79L1015.32 317.84M1027.24 322.23L1030.27 323.46L1033.27 324.72L1036.25 326.01L1039.19 327.34M1050.25 332.76L1053.04 334.25L1055.79 335.77L1058.52 337.32L1061.2 338.9M1071.22 345.27L1073.73 347L1076.2 348.75L1078.63 350.53L1081.02 352.34M1089.84 359.56L1092.03 361.5L1094.17 363.46L1096.27 365.44L1098.32 367.45M1105.81 375.4L1107.63 377.52L1109.42 379.66L1111.15 381.82L1112.84 383.99M1118.87 392.55L1120.31 394.82L1121.71 397.1L1123.05 399.39L1124.34 401.7M1128.82 410.74L1129.86 413.11L1130.84 415.5L1131.77 417.9L1132.64 420.31M1135.51 429.67L1136.12 432.12L1136.68 434.58L1137.18 437.04L1137.62 439.51M1138.82 449.06L1139 451.54L1139.12 454.03L1139.19 456.52L1139.2 459M1138.71 468.58L1138.45 471.07L1138.14 473.54L1137.77 476.02L1137.34 478.49M1135.18 487.95L1134.49 490.39L1133.74 492.82L1132.94 495.24L1132.08 497.65M1128.28 506.84L1127.17 509.2L1126 511.54L1124.78 513.87L1123.51 516.19M1118.13 524.97L1116.61 527.21L1115.04 529.43L1113.42 531.63L1111.75 533.82M1104.87 542.05L1102.97 544.13L1101.03 546.19L1099.04 548.23L1097 550.25M1088.73 557.8L1086.48 559.7L1084.19 561.57L1081.85 563.41L1079.48 565.23M1069.95 571.98L1067.39 573.66L1064.79 575.31L1062.15 576.93L1059.47 578.53M1048.84 584.37L1046 585.8L1043.13 587.21L1040.23 588.58L1037.29 589.92M1025.72 594.76L1022.65 595.94L1019.55 597.07L1016.43 598.17L1013.29 599.24M1000.96 603.01L997.71 603.9L994.44 604.75L991.15 605.56L987.84 606.34M974.95 608.97L971.57 609.56L968.17 610.11L964.77 610.62L961.35 611.09M948.1 612.55L944.64 612.83L941.18 613.08L937.71 613.28L934.24 613.44M920.83 613.7L917.35 613.67L913.87 613.6L910.4 613.49L906.92 613.34M893.58 612.39L890.13 612.05L886.69 611.67L883.26 611.25L879.84 610.79M866.77 608.66L863.41 608.01L860.06 607.33L856.73 606.6L853.42 605.84M840.83 602.55L837.61 601.61L834.41 600.63L831.23 599.61L828.08 598.56M816.16 594.17L813.13 592.94L810.13 591.68L807.15 590.39L804.21 589.06M793.15 583.64L790.36 582.15L787.61 580.63L784.88 579.08L782.2 577.5M772.18 571.13L769.67 569.4L767.2 567.65L764.77 565.87L762.38 564.06M753.56 556.84L751.37 554.9L749.23 552.94L747.13 550.96L745.08 548.95M737.59 541L735.77 538.88L733.98 536.74L732.25 534.58L730.56 532.41M724.53 523.85L723.09 521.58L721.69 519.3L720.35 517.01L719.06 514.7M714.58 505.66L713.54 503.29L712.56 500.9L711.63 498.5L710.76 496.09M707.89 486.73L707.28 484.28L706.72 481.82L706.22 479.36L705.78 476.89M704.58 467.34L704.4 464.86L704.28 462.37L704.21 459.88L704.2 457.4M704.69 447.82L704.95 445.33L705.26 442.86L705.63 440.38L706.06 437.91M708.22 428.45L708.91 426.01L709.66 423.58L710.46 421.16L711.32 418.75M715.12 409.56L716.23 407.2L717.4 404.86L718.62 402.53L719.89 400.21M725.27 391.43L726.79 389.19L728.36 386.97L729.98 384.77L731.65 382.58M738.53 374.35L740.43 372.27L742.37 370.21L744.36 368.17L746.4 366.15M754.67 358.6L756.92 356.7L759.21 354.83L761.55 352.99L763.92 351.17M773.45 344.42L776.01 342.74L778.61 341.09L781.25 339.47L783.93 337.87M794.56 332.03L797.4 330.6L800.27 329.19L803.17 327.82L806.11 326.48M817.68 321.64L820.75 320.46L823.85 319.33L826.97 318.23L830.11 317.16M842.44 313.39L845.69 312.5L848.96 311.65L852.25 310.84L855.56 310.06M868.45 307.43L871.83 306.84L875.23 306.29L878.63 305.78L882.05 305.31M895.3 303.85L898.76 303.57L902.22 303.32L905.69 303.12L909.16 302.96" fill="none" stroke="#fff" stroke-width="3.8" stroke-linecap="butt"/>
<circle cx="767.9" cy="440.3" r="14.8" fill="none" stroke="#fff" stroke-width="3.2"/>
<circle cx="919.9" cy="424.2" r="14.8" fill="none" stroke="#fff" stroke-width="3.2"/>
<circle cx="1040.6" cy="461.7" r="14.8" fill="none" stroke="#fff" stroke-width="3.2"/>
<circle cx="794.5" cy="521.6" r="14.8" fill="none" stroke="#fff" stroke-width="3.2"/>
<circle cx="961" cy="639.9" r="14.8" fill="none" stroke="#fff" stroke-width="3.2"/>
<path d="M913.3 450.3L931.3 468.3M913.3 468.3L931.3 450.3" stroke="#fff" stroke-width="3.2" fill="none"/>
<rect x="127.9" y="1105" width="608.5" height="570.8" fill="#000"/>
<rect x="129.2" y="1107.3" width="3" height="3" fill="#fff"/>
<rect x="142.22" y="1107.3" width="3" height="3" fill="#fff"/>
<rect x="155.23" y="1107.3" width="3" height="7" fill="#fff"/>
<rect x="168.25" y="1107.3" width="3" height="3" fill="#fff"/>
<rect x="181.26" y="1107.3" width="3" height="3" fill="#fff"/>
<rect x="194.28" y="1107.3" width="3" height="3" fill="#fff"/>
<rect x="207.3" y="1107.3" width="3" height="3" fill="#fff"/>
<rect x="220.31" y="1107.3" width="3" height="7" fill="#fff"/>
<rect x="233.33" y="1107.3" width="3" height="3" fill="#fff"/>
<rect x="246.34" y="1107.3" width="3" height="3" fill="#fff"/>
<rect x="259.36" y="1107.3" width="3" height="3" fill="#fff"/>
<rect x="272.38" y="1107.3" width="3" height="3" fill="#fff"/>
<rect x="285.39" y="1107.3" width="3" height="7" fill="#fff"/>
<rect x="298.41" y="1107.3" width="3" height="3" fill="#fff"/>
<rect x="311.42" y="1107.3" width="3" height="3" fill="#fff"/>
<rect x="324.44" y="1107.3" width="3" height="3" fill="#fff"/>
<rect x="337.46" y="1107.3" width="3" height="3" fill="#fff"/>
<rect x="350.47" y="1107.3" width="3" height="7" fill="#fff"/>
<rect x="363.49" y="1107.3" width="3" height="3" fill="#fff"/>
<rect x="376.5" y="1107.3" width="3" height="3" fill="#fff"/>
<rect x="389.52" y="1107.3" width="3" height="3" fill="#fff"/>
<rect x="402.54" y="1107.3" width="3" height="3" fill="#fff"/>
<rect x="415.55" y="1107.3" width="3" height="7" fill="#fff"/>
<rect x="428.57" y="1107.3" width="3" height="3" fill="#fff"/>
<rect x="441.58" y="1107.3" width="3" height="3" fill="#fff"/>
<rect x="454.6" y="1107.3" width="3" height="3" fill="#fff"/>
<rect x="467.62" y="1107.3" width="3" height="3" fill="#fff"/>
<rect x="480.63" y="1107.3" width="3" height="7" fill="#fff"/>
<rect x="493.65" y="1107.3" width="3" height="3" fill="#fff"/>
<rect x="506.66" y="1107.3" width="3" height="3" fill="#fff"/>
<rect x="519.68" y="1107.3" width="3" height="3" fill="#fff"/>
<rect x="532.7" y="1107.3" width="3" height="3" fill="#fff"/>
<rect x="545.71" y="1107.3" width="3" height="7" fill="#fff"/>
<rect x="558.73" y="1107.3" width="3" height="3" fill="#fff"/>
<rect x="571.74" y="1107.3" width="3" height="3" fill="#fff"/>
<rect x="584.76" y="1107.3" width="3" height="3" fill="#fff"/>
<rect x="597.78" y="1107.3" width="3" height="3" fill="#fff"/>
<rect x="610.79" y="1107.3" width="3" height="7" fill="#fff"/>
<rect x="623.81" y="1107.3" width="3" height="3" fill="#fff"/>
<rect x="636.82" y="1107.3" width="3" height="3" fill="#fff"/>
<rect x="649.84" y="1107.3" width="3" height="3" fill="#fff"/>
<rect x="662.86" y="1107.3" width="3" height="3" fill="#fff"/>
<rect x="675.87" y="1107.3" width="3" height="7" fill="#fff"/>
<rect x="688.89" y="1107.3" width="3" height="3" fill="#fff"/>
<rect x="701.9" y="1107.3" width="3" height="3" fill="#fff"/>
<rect x="714.92" y="1107.3" width="3" height="3" fill="#fff"/>
<rect x="727.94" y="1107.3" width="3" height="3" fill="#fff"/>
<rect x="134.9" y="1670.2" width="3" height="3.1" fill="#fff"/>
<rect x="147.68" y="1670.2" width="3" height="3.1" fill="#fff"/>
<rect x="160.46" y="1666.2" width="3" height="7.1" fill="#fff"/>
<rect x="173.24" y="1670.2" width="3" height="3.1" fill="#fff"/>
<rect x="186.02" y="1670.2" width="3" height="3.1" fill="#fff"/>
<rect x="198.8" y="1670.2" width="3" height="3.1" fill="#fff"/>
<rect x="211.58" y="1670.2" width="3" height="3.1" fill="#fff"/>
<rect x="224.36" y="1666.2" width="3" height="7.1" fill="#fff"/>
<rect x="237.14" y="1670.2" width="3" height="3.1" fill="#fff"/>
<rect x="249.92" y="1670.2" width="3" height="3.1" fill="#fff"/>
<rect x="262.7" y="1670.2" width="3" height="3.1" fill="#fff"/>
<rect x="275.48" y="1670.2" width="3" height="3.1" fill="#fff"/>
<rect x="288.26" y="1666.2" width="3" height="7.1" fill="#fff"/>
<rect x="301.04" y="1670.2" width="3" height="3.1" fill="#fff"/>
<rect x="313.82" y="1670.2" width="3" height="3.1" fill="#fff"/>
<rect x="326.6" y="1670.2" width="3" height="3.1" fill="#fff"/>
<rect x="339.38" y="1670.2" width="3" height="3.1" fill="#fff"/>
<rect x="352.16" y="1666.2" width="3" height="7.1" fill="#fff"/>
<rect x="364.94" y="1670.2" width="3" height="3.1" fill="#fff"/>
<rect x="377.72" y="1670.2" width="3" height="3.1" fill="#fff"/>
<rect x="390.5" y="1670.2" width="3" height="3.1" fill="#fff"/>
<rect x="403.28" y="1670.2" width="3" height="3.1" fill="#fff"/>
<rect x="416.06" y="1666.2" width="3" height="7.1" fill="#fff"/>
<rect x="428.84" y="1670.2" width="3" height="3.1" fill="#fff"/>
<rect x="441.62" y="1670.2" width="3" height="3.1" fill="#fff"/>
<rect x="454.4" y="1670.2" width="3" height="3.1" fill="#fff"/>
<rect x="467.18" y="1670.2" width="3" height="3.1" fill="#fff"/>
<rect x="479.96" y="1666.2" width="3" height="7.1" fill="#fff"/>
<rect x="492.74" y="1670.2" width="3" height="3.1" fill="#fff"/>
<rect x="505.52" y="1670.2" width="3" height="3.1" fill="#fff"/>
<rect x="518.3" y="1670.2" width="3" height="3.1" fill="#fff"/>
<rect x="531.08" y="1670.2" width="3" height="3.1" fill="#fff"/>
<rect x="543.86" y="1666.2" width="3" height="7.1" fill="#fff"/>
<rect x="556.64" y="1670.2" width="3" height="3.1" fill="#fff"/>
<rect x="569.42" y="1670.2" width="3" height="3.1" fill="#fff"/>
<rect x="582.2" y="1670.2" width="3" height="3.1" fill="#fff"/>
<rect x="594.98" y="1670.2" width="3" height="3.1" fill="#fff"/>
<rect x="607.76" y="1666.2" width="3" height="7.1" fill="#fff"/>
<rect x="620.54" y="1670.2" width="3" height="3.1" fill="#fff"/>
<rect x="633.32" y="1670.2" width="3" height="3.1" fill="#fff"/>
<rect x="646.1" y="1670.2" width="3" height="3.1" fill="#fff"/>
<rect x="658.88" y="1670.2" width="3" height="3.1" fill="#fff"/>
<rect x="671.66" y="1666.2" width="3" height="7.1" fill="#fff"/>
<rect x="684.44" y="1670.2" width="3" height="3.1" fill="#fff"/>
<rect x="697.22" y="1670.2" width="3" height="3.1" fill="#fff"/>
<rect x="710" y="1670.2" width="3" height="3.1" fill="#fff"/>
<rect x="722.78" y="1670.2" width="3" height="3.1" fill="#fff"/>
<rect x="130" y="1121.8" width="3.1" height="3" fill="#fff"/>
<rect x="730.6" y="1121.8" width="3.8" height="3" fill="#fff"/>
<rect x="130" y="1142.36" width="3.1" height="3" fill="#fff"/>
<rect x="730.6" y="1142.36" width="3.8" height="3" fill="#fff"/>
<rect x="130" y="1162.92" width="7.3" height="3" fill="#fff"/>
<rect x="727" y="1162.92" width="7.4" height="3" fill="#fff"/>
<rect x="130" y="1183.48" width="3.1" height="3" fill="#fff"/>
<rect x="730.6" y="1183.48" width="3.8" height="3" fill="#fff"/>
<rect x="130" y="1204.04" width="3.1" height="3" fill="#fff"/>
<rect x="730.6" y="1204.04" width="3.8" height="3" fill="#fff"/>
<rect x="130" y="1224.6" width="3.1" height="3" fill="#fff"/>
<rect x="730.6" y="1224.6" width="3.8" height="3" fill="#fff"/>
<rect x="130" y="1245.16" width="3.1" height="3" fill="#fff"/>
<rect x="730.6" y="1245.16" width="3.8" height="3" fill="#fff"/>
<rect x="130" y="1265.72" width="7.3" height="3" fill="#fff"/>
<rect x="727" y="1265.72" width="7.4" height="3" fill="#fff"/>
<rect x="130" y="1286.28" width="3.1" height="3" fill="#fff"/>
<rect x="730.6" y="1286.28" width="3.8" height="3" fill="#fff"/>
<rect x="130" y="1306.84" width="3.1" height="3" fill="#fff"/>
<rect x="730.6" y="1306.84" width="3.8" height="3" fill="#fff"/>
<rect x="130" y="1327.4" width="3.1" height="3" fill="#fff"/>
<rect x="730.6" y="1327.4" width="3.8" height="3" fill="#fff"/>
<rect x="130" y="1347.96" width="3.1" height="3" fill="#fff"/>
<rect x="730.6" y="1347.96" width="3.8" height="3" fill="#fff"/>
<rect x="130" y="1368.52" width="7.3" height="3" fill="#fff"/>
<rect x="727" y="1368.52" width="7.4" height="3" fill="#fff"/>
<rect x="130" y="1389.08" width="3.1" height="3" fill="#fff"/>
<rect x="730.6" y="1389.08" width="3.8" height="3" fill="#fff"/>
<rect x="130" y="1409.64" width="3.1" height="3" fill="#fff"/>
<rect x="730.6" y="1409.64" width="3.8" height="3" fill="#fff"/>
<rect x="130" y="1430.2" width="3.1" height="3" fill="#fff"/>
<rect x="730.6" y="1430.2" width="3.8" height="3" fill="#fff"/>
<rect x="130" y="1450.76" width="3.1" height="3" fill="#fff"/>
<rect x="730.6" y="1450.76" width="3.8" height="3" fill="#fff"/>
<rect x="130" y="1471.32" width="7.3" height="3" fill="#fff"/>
<rect x="727" y="1471.32" width="7.4" height="3" fill="#fff"/>
<rect x="130" y="1491.88" width="3.1" height="3" fill="#fff"/>
<rect x="730.6" y="1491.88" width="3.8" height="3" fill="#fff"/>
<rect x="130" y="1512.44" width="3.1" height="3" fill="#fff"/>
<rect x="730.6" y="1512.44" width="3.8" height="3" fill="#fff"/>
<rect x="130" y="1533" width="3.1" height="3" fill="#fff"/>
<rect x="730.6" y="1533" width="3.8" height="3" fill="#fff"/>
<rect x="130" y="1553.56" width="3.1" height="3" fill="#fff"/>
<rect x="730.6" y="1553.56" width="3.8" height="3" fill="#fff"/>
<rect x="130" y="1574.12" width="7.3" height="3" fill="#fff"/>
<rect x="727" y="1574.12" width="7.4" height="3" fill="#fff"/>
<rect x="130" y="1594.68" width="3.1" height="3" fill="#fff"/>
<rect x="730.6" y="1594.68" width="3.8" height="3" fill="#fff"/>
<rect x="130" y="1615.24" width="3.1" height="3" fill="#fff"/>
<rect x="730.6" y="1615.24" width="3.8" height="3" fill="#fff"/>
<rect x="130" y="1635.8" width="3.1" height="3" fill="#fff"/>
<rect x="730.6" y="1635.8" width="3.8" height="3" fill="#fff"/>
<rect x="130" y="1656.36" width="3.1" height="3" fill="#fff"/>
<rect x="730.6" y="1656.36" width="3.8" height="3" fill="#fff"/>
<g filter="url(#bl2)"><circle cx="367.3" cy="1158.09" r="4.6" fill="url(#db)"/><circle cx="410.88" cy="1166.01" r="4.6" fill="url(#db)"/><circle cx="430.69" cy="1155.71" r="4.6" fill="url(#db)"/><circle cx="431.49" cy="1134.32" r="4.6" fill="url(#db)"/><circle cx="430.69" cy="1192.96" r="4.6" fill="url(#db)"/><circle cx="393.93" cy="1189.31" r="4.6" fill="url(#db)"/><circle cx="394.24" cy="1200.09" r="4.6" fill="url(#db)"/><circle cx="381.57" cy="1208.8" r="4.6" fill="url(#db)"/><circle cx="392.98" cy="1208.8" r="4.6" fill="url(#db)"/><circle cx="367.3" cy="1196.13" r="4.6" fill="url(#db)"/><circle cx="346.7" cy="1200.88" r="4.6" fill="url(#db)"/><circle cx="343.53" cy="1206.43" r="4.6" fill="url(#db)"/><circle cx="353.04" cy="1204.05" r="4.6" fill="url(#db)"/><circle cx="340.36" cy="1222.59" r="4.6" fill="url(#db)"/><circle cx="279.35" cy="1215.14" r="4.6" fill="url(#db)"/><circle cx="286.48" cy="1220.37" r="4.6" fill="url(#db)"/><circle cx="409.3" cy="1220.37" r="4.6" fill="url(#db)"/><circle cx="408.51" cy="1234.95" r="4.6" fill="url(#db)"/><circle cx="318.97" cy="1234.16" r="4.6" fill="url(#db)"/><circle cx="246.07" cy="1238.91" r="4.6" fill="url(#db)"/><circle cx="250.82" cy="1243.67" r="4.6" fill="url(#db)"/><circle cx="268.73" cy="1241.61" r="4.6" fill="url(#db)"/><circle cx="305.18" cy="1245.25" r="4.6" fill="url(#db)"/><circle cx="237.35" cy="1250.01" r="4.6" fill="url(#db)"/><circle cx="291.23" cy="1250.01" r="4.6" fill="url(#db)"/><circle cx="275.07" cy="1252.39" r="4.6" fill="url(#db)"/><circle cx="350.19" cy="1248.42" r="4.6" fill="url(#db)"/><circle cx="383.94" cy="1251.59" r="4.6" fill="url(#db)"/><circle cx="399.32" cy="1251.59" r="4.6" fill="url(#db)"/><circle cx="248.44" cy="1261.89" r="4.6" fill="url(#db)"/><circle cx="317.38" cy="1261.89" r="4.6" fill="url(#db)"/><circle cx="337.19" cy="1261.58" r="4.6" fill="url(#db)"/><circle cx="359.06" cy="1269.82" r="4.6" fill="url(#db)"/><circle cx="356.21" cy="1278.53" r="4.6" fill="url(#db)"/><circle cx="377.6" cy="1275.36" r="4.6" fill="url(#db)"/><circle cx="403.44" cy="1277.42" r="4.6" fill="url(#db)"/><circle cx="206.92" cy="1271.09" r="4.6" fill="url(#db)"/><circle cx="304.7" cy="1275.36" r="4.6" fill="url(#db)"/><circle cx="279.35" cy="1280.59" r="4.6" fill="url(#db)"/><circle cx="264.29" cy="1285.67" r="4.6" fill="url(#db)"/><circle cx="300.42" cy="1291.21" r="4.6" fill="url(#db)"/><circle cx="379.19" cy="1294.38" r="4.6" fill="url(#db)"/><circle cx="421.5" cy="1299.14" r="4.6" fill="url(#db)"/><circle cx="238.94" cy="1307.06" r="4.6" fill="url(#db)"/><circle cx="270.31" cy="1310.23" r="4.6" fill="url(#db)"/><circle cx="401.85" cy="1308.17" r="4.6" fill="url(#db)"/><circle cx="427.52" cy="1325.29" r="4.6" fill="url(#db)"/><circle cx="209.62" cy="1333.21" r="4.6" fill="url(#db)"/><circle cx="381.57" cy="1330.04" r="4.6" fill="url(#db)"/><circle cx="282.99" cy="1337.96" r="4.6" fill="url(#db)"/><circle cx="228.16" cy="1358.57" r="4.6" fill="url(#db)"/><circle cx="266.19" cy="1356.98" r="4.6" fill="url(#db)"/><circle cx="362.55" cy="1358.57" r="4.6" fill="url(#db)"/><circle cx="324.51" cy="1360.15" r="4.6" fill="url(#db)"/><circle cx="399.79" cy="1360.94" r="4.6" fill="url(#db)"/><circle cx="192.66" cy="1375.21" r="4.6" fill="url(#db)"/><circle cx="270.63" cy="1372.04" r="4.6" fill="url(#db)"/><circle cx="281.72" cy="1372.04" r="4.6" fill="url(#db)"/><circle cx="263.97" cy="1377.27" r="4.6" fill="url(#db)"/><circle cx="295.99" cy="1377.58" r="4.6" fill="url(#db)"/><circle cx="346.38" cy="1380.75" r="4.6" fill="url(#db)"/><circle cx="292.03" cy="1389.47" r="4.6" fill="url(#db)"/><circle cx="261.91" cy="1394.75" r="4.6" fill="url(#db)"/><circle cx="291.55" cy="1391.9" r="4.6" fill="url(#db)"/><circle cx="271.9" cy="1402.68" r="4.6" fill="url(#db)"/><circle cx="405.34" cy="1399.51" r="4.6" fill="url(#db)"/><circle cx="156.84" cy="1414.56" r="4.6" fill="url(#db)"/><circle cx="257.64" cy="1426.13" r="4.6" fill="url(#db)"/><circle cx="188.22" cy="1434.69" r="4.6" fill="url(#db)"/><circle cx="272.22" cy="1436.28" r="4.6" fill="url(#db)"/><circle cx="409.3" cy="1433.11" r="4.6" fill="url(#db)"/><circle cx="416.11" cy="1440.4" r="4.6" fill="url(#db)"/><circle cx="416.75" cy="1445.47" r="4.6" fill="url(#db)"/><circle cx="248.76" cy="1451.01" r="4.6" fill="url(#db)"/><circle cx="324.2" cy="1445.15" r="4.6" fill="url(#db)"/><circle cx="317.86" cy="1451.01" r="4.6" fill="url(#db)"/><circle cx="303.12" cy="1452.6" r="4.6" fill="url(#db)"/><circle cx="344.32" cy="1451.81" r="4.6" fill="url(#db)"/><circle cx="348.6" cy="1466.39" r="4.6" fill="url(#db)"/><circle cx="408.19" cy="1459.73" r="4.6" fill="url(#db)"/><circle cx="411.68" cy="1469.56" r="4.6" fill="url(#db)"/><circle cx="235.45" cy="1477.96" r="4.6" fill="url(#db)"/><circle cx="293.61" cy="1477.48" r="4.6" fill="url(#db)"/><circle cx="289.65" cy="1488.26" r="4.6" fill="url(#db)"/><circle cx="334.81" cy="1486.67" r="4.6" fill="url(#db)"/><circle cx="377.6" cy="1483.82" r="4.6" fill="url(#db)"/><circle cx="421.5" cy="1484.77" r="4.6" fill="url(#db)"/><circle cx="341.15" cy="1497.77" r="4.6" fill="url(#db)"/><circle cx="338.78" cy="1507.27" r="4.6" fill="url(#db)"/><circle cx="334.02" cy="1509.18" r="4.6" fill="url(#db)"/><circle cx="356.21" cy="1499.35" r="4.6" fill="url(#db)"/><circle cx="360.17" cy="1504.9" r="4.6" fill="url(#db)"/><circle cx="353.83" cy="1509.18" r="4.6" fill="url(#db)"/><circle cx="180.3" cy="1509.65" r="4.6" fill="url(#db)"/><circle cx="374.91" cy="1514.41" r="4.6" fill="url(#db)"/><circle cx="276.97" cy="1526.61" r="4.6" fill="url(#db)"/><circle cx="287.27" cy="1530.25" r="4.6" fill="url(#db)"/><circle cx="304.23" cy="1525.5" r="4.6" fill="url(#db)"/><circle cx="300.74" cy="1533.42" r="4.6" fill="url(#db)"/><circle cx="314.21" cy="1533.42" r="4.6" fill="url(#db)"/><circle cx="232.6" cy="1533.9" r="4.6" fill="url(#db)"/><circle cx="355.89" cy="1525.02" r="4.6" fill="url(#db)"/><circle cx="384.74" cy="1542.93" r="4.6" fill="url(#db)"/><circle cx="395.83" cy="1542.93" r="4.6" fill="url(#db)"/><circle cx="359.06" cy="1546.1" r="4.6" fill="url(#db)"/><circle cx="350.19" cy="1555.61" r="4.6" fill="url(#db)"/><circle cx="405.65" cy="1559.26" r="4.6" fill="url(#db)"/><circle cx="307.87" cy="1570.35" r="4.6" fill="url(#db)"/><circle cx="353.36" cy="1574.15" r="4.6" fill="url(#db)"/><circle cx="388.22" cy="1587.78" r="4.6" fill="url(#db)"/><circle cx="311.04" cy="1599.51" r="4.6" fill="url(#db)"/><circle cx="375.23" cy="1606.32" r="4.6" fill="url(#db)"/><circle cx="310.25" cy="1621.06" r="4.6" fill="url(#db)"/><circle cx="427.21" cy="1618.53" r="4.6" fill="url(#db)"/><circle cx="373.96" cy="1653.39" r="4.6" fill="url(#db)"/><circle cx="435.17" cy="1134.79" r="4.6" fill="url(#db)"/><circle cx="524.71" cy="1135.9" r="4.6" fill="url(#db)"/><circle cx="433.9" cy="1155.71" r="4.6" fill="url(#db)"/><circle cx="496.18" cy="1155.4" r="4.6" fill="url(#db)"/><circle cx="504.58" cy="1158.09" r="4.6" fill="url(#db)"/><circle cx="528.35" cy="1151.75" r="4.6" fill="url(#db)"/><circle cx="539.45" cy="1161.26" r="4.6" fill="url(#db)"/><circle cx="504.58" cy="1168.07" r="4.6" fill="url(#db)"/><circle cx="475.11" cy="1169.18" r="4.6" fill="url(#db)"/><circle cx="437.07" cy="1171.56" r="4.6" fill="url(#db)"/><circle cx="475.58" cy="1180.75" r="4.6" fill="url(#db)"/><circle cx="528.35" cy="1181.39" r="4.6" fill="url(#db)"/><circle cx="433.58" cy="1192.16" r="4.6" fill="url(#db)"/><circle cx="543.25" cy="1193.43" r="4.6" fill="url(#db)"/><circle cx="587.31" cy="1185.51" r="4.6" fill="url(#db)"/><circle cx="565.91" cy="1199.77" r="4.6" fill="url(#db)"/><circle cx="497.77" cy="1203.26" r="4.6" fill="url(#db)"/><circle cx="598.72" cy="1211.97" r="4.6" fill="url(#db)"/><circle cx="611.87" cy="1210.86" r="4.6" fill="url(#db)"/><circle cx="441.51" cy="1230.52" r="4.6" fill="url(#db)"/><circle cx="590.8" cy="1225.13" r="4.6" fill="url(#db)"/><circle cx="512.03" cy="1228.93" r="4.6" fill="url(#db)"/><circle cx="508.86" cy="1234.95" r="4.6" fill="url(#db)"/><circle cx="505.69" cy="1239.71" r="4.6" fill="url(#db)"/><circle cx="629.78" cy="1231.47" r="4.6" fill="url(#db)"/><circle cx="590.48" cy="1237.81" r="4.6" fill="url(#db)"/><circle cx="465.28" cy="1243.67" r="4.6" fill="url(#db)"/><circle cx="553.71" cy="1243.67" r="4.6" fill="url(#db)"/><circle cx="587.31" cy="1248.42" r="4.6" fill="url(#db)"/><circle cx="606.33" cy="1242.88" r="4.6" fill="url(#db)"/><circle cx="610.29" cy="1246.84" r="4.6" fill="url(#db)"/><circle cx="649.91" cy="1245.73" r="4.6" fill="url(#db)"/><circle cx="650.7" cy="1254.76" r="4.6" fill="url(#db)"/><circle cx="449.75" cy="1255.87" r="4.6" fill="url(#db)"/><circle cx="461.79" cy="1256.82" r="4.6" fill="url(#db)"/><circle cx="561.64" cy="1257.14" r="4.6" fill="url(#db)"/><circle cx="592.86" cy="1260.63" r="4.6" fill="url(#db)"/><circle cx="614.25" cy="1260.63" r="4.6" fill="url(#db)"/><circle cx="534.22" cy="1272.67" r="4.6" fill="url(#db)"/><circle cx="543.73" cy="1275.36" r="4.6" fill="url(#db)"/><circle cx="574.63" cy="1279.01" r="4.6" fill="url(#db)"/><circle cx="593.33" cy="1277.74" r="4.6" fill="url(#db)"/><circle cx="505.69" cy="1281.23" r="4.6" fill="url(#db)"/><circle cx="552.44" cy="1283.29" r="4.6" fill="url(#db)"/><circle cx="665.28" cy="1281.7" r="4.6" fill="url(#db)"/><circle cx="460.53" cy="1295.17" r="4.6" fill="url(#db)"/><circle cx="449.75" cy="1306.27" r="4.6" fill="url(#db)"/><circle cx="474.47" cy="1305" r="4.6" fill="url(#db)"/><circle cx="480.34" cy="1311.81" r="4.6" fill="url(#db)"/><circle cx="499.83" cy="1304.37" r="4.6" fill="url(#db)"/><circle cx="608.23" cy="1297.55" r="4.6" fill="url(#db)"/><circle cx="477.64" cy="1321.32" r="4.6" fill="url(#db)"/><circle cx="515.68" cy="1318.63" r="4.6" fill="url(#db)"/><circle cx="548.01" cy="1312.29" r="4.6" fill="url(#db)"/><circle cx="643.57" cy="1310.71" r="4.6" fill="url(#db)"/><circle cx="621.38" cy="1315.78" r="4.6" fill="url(#db)"/><circle cx="501.73" cy="1329.72" r="4.6" fill="url(#db)"/><circle cx="526.29" cy="1329.25" r="4.6" fill="url(#db)"/><circle cx="646.26" cy="1329.25" r="4.6" fill="url(#db)"/><circle cx="456.56" cy="1337.96" r="4.6" fill="url(#db)"/><circle cx="655.45" cy="1339.87" r="4.6" fill="url(#db)"/><circle cx="690" cy="1339.55" r="4.6" fill="url(#db)"/><circle cx="699.04" cy="1346.2" r="4.6" fill="url(#db)"/><circle cx="708.55" cy="1339.55" r="4.6" fill="url(#db)"/><circle cx="512.82" cy="1342.72" r="4.6" fill="url(#db)"/><circle cx="489.05" cy="1349.06" r="4.6" fill="url(#db)"/><circle cx="584.46" cy="1348.74" r="4.6" fill="url(#db)"/><circle cx="458.94" cy="1353.02" r="4.6" fill="url(#db)"/><circle cx="545.31" cy="1355.08" r="4.6" fill="url(#db)"/><circle cx="592.86" cy="1357.77" r="4.6" fill="url(#db)"/><circle cx="616.63" cy="1358.25" r="4.6" fill="url(#db)"/><circle cx="719.64" cy="1360.94" r="4.6" fill="url(#db)"/><circle cx="708.07" cy="1364.9" r="4.6" fill="url(#db)"/><circle cx="452.6" cy="1365.7" r="4.6" fill="url(#db)"/><circle cx="557.2" cy="1366.49" r="4.6" fill="url(#db)"/><circle cx="651.49" cy="1370.45" r="4.6" fill="url(#db)"/><circle cx="634.06" cy="1376" r="4.6" fill="url(#db)"/><circle cx="631.37" cy="1382.02" r="4.6" fill="url(#db)"/><circle cx="690" cy="1376.79" r="4.6" fill="url(#db)"/><circle cx="718.05" cy="1380.44" r="4.6" fill="url(#db)"/><circle cx="687.47" cy="1384.71" r="4.6" fill="url(#db)"/><circle cx="555.3" cy="1382.34" r="4.6" fill="url(#db)"/><circle cx="480.34" cy="1387.09" r="4.6" fill="url(#db)"/><circle cx="444.36" cy="1395.55" r="4.6" fill="url(#db)"/><circle cx="453.39" cy="1398.72" r="4.6" fill="url(#db)"/><circle cx="480.81" cy="1393.17" r="4.6" fill="url(#db)"/><circle cx="509.65" cy="1397.13" r="4.6" fill="url(#db)"/><circle cx="563.54" cy="1391.9" r="4.6" fill="url(#db)"/><circle cx="650.7" cy="1394.75" r="4.6" fill="url(#db)"/><circle cx="659.42" cy="1393.17" r="4.6" fill="url(#db)"/><circle cx="697.45" cy="1391.9" r="4.6" fill="url(#db)"/><circle cx="475.58" cy="1412.98" r="4.6" fill="url(#db)"/><circle cx="439.13" cy="1418.21" r="4.6" fill="url(#db)"/><circle cx="451.81" cy="1422.96" r="4.6" fill="url(#db)"/><circle cx="486.2" cy="1424.07" r="4.6" fill="url(#db)"/><circle cx="504.9" cy="1429.3" r="4.6" fill="url(#db)"/><circle cx="531.05" cy="1430.89" r="4.6" fill="url(#db)"/><circle cx="547.37" cy="1422.01" r="4.6" fill="url(#db)"/><circle cx="630.1" cy="1409.81" r="4.6" fill="url(#db)"/><circle cx="657.83" cy="1419.79" r="4.6" fill="url(#db)"/><circle cx="700.15" cy="1412.98" r="4.6" fill="url(#db)"/><circle cx="553.24" cy="1437.86" r="4.6" fill="url(#db)"/><circle cx="560.68" cy="1446.74" r="4.6" fill="url(#db)"/><circle cx="593.97" cy="1435.64" r="4.6" fill="url(#db)"/><circle cx="648.8" cy="1444.2" r="4.6" fill="url(#db)"/><circle cx="690.64" cy="1450.54" r="4.6" fill="url(#db)"/><circle cx="446.58" cy="1458.46" r="4.6" fill="url(#db)"/><circle cx="481.45" cy="1454.18" r="4.6" fill="url(#db)"/><circle cx="509.65" cy="1458.46" r="4.6" fill="url(#db)"/><circle cx="493.81" cy="1464.48" r="4.6" fill="url(#db)"/><circle cx="638.81" cy="1462.11" r="4.6" fill="url(#db)"/><circle cx="640.4" cy="1470.03" r="4.6" fill="url(#db)"/><circle cx="651.97" cy="1468.45" r="4.6" fill="url(#db)"/><circle cx="671.62" cy="1461.63" r="4.6" fill="url(#db)"/><circle cx="674.47" cy="1469.56" r="4.6" fill="url(#db)"/><circle cx="704.58" cy="1462.11" r="4.6" fill="url(#db)"/><circle cx="535.33" cy="1475.9" r="4.6" fill="url(#db)"/><circle cx="568.61" cy="1472.41" r="4.6" fill="url(#db)"/><circle cx="603.95" cy="1479.54" r="4.6" fill="url(#db)"/><circle cx="579.7" cy="1493.8" r="4.6" fill="url(#db)"/><circle cx="626.61" cy="1497.77" r="4.6" fill="url(#db)"/><circle cx="626.14" cy="1502.84" r="4.6" fill="url(#db)"/><circle cx="554.82" cy="1499.35" r="4.6" fill="url(#db)"/><circle cx="508.86" cy="1504.1" r="4.6" fill="url(#db)"/><circle cx="503.32" cy="1512.35" r="4.6" fill="url(#db)"/><circle cx="570.67" cy="1514.41" r="4.6" fill="url(#db)"/><circle cx="561.64" cy="1518.05" r="4.6" fill="url(#db)"/><circle cx="523.13" cy="1527.56" r="4.6" fill="url(#db)"/><circle cx="539.77" cy="1529.46" r="4.6" fill="url(#db)"/><circle cx="546.1" cy="1534.22" r="4.6" fill="url(#db)"/><circle cx="479.23" cy="1529.46" r="4.6" fill="url(#db)"/><circle cx="466.07" cy="1541.35" r="4.6" fill="url(#db)"/><circle cx="473.52" cy="1538.97" r="4.6" fill="url(#db)"/><circle cx="485.09" cy="1538.18" r="4.6" fill="url(#db)"/><circle cx="474.79" cy="1548.48" r="4.6" fill="url(#db)"/><circle cx="479.23" cy="1555.61" r="4.6" fill="url(#db)"/><circle cx="565.91" cy="1558.78" r="4.6" fill="url(#db)"/><circle cx="559.58" cy="1563.53" r="4.6" fill="url(#db)"/><circle cx="592.86" cy="1559.89" r="4.6" fill="url(#db)"/><circle cx="584.93" cy="1563.53" r="4.6" fill="url(#db)"/><circle cx="579.07" cy="1569.87" r="4.6" fill="url(#db)"/><circle cx="505.22" cy="1564.33" r="4.6" fill="url(#db)"/><circle cx="510.45" cy="1571.93" r="4.6" fill="url(#db)"/><circle cx="552.76" cy="1573.52" r="4.6" fill="url(#db)"/><circle cx="582.24" cy="1580.97" r="4.6" fill="url(#db)"/><circle cx="629.78" cy="1583.03" r="4.6" fill="url(#db)"/><circle cx="540.56" cy="1584.93" r="4.6" fill="url(#db)"/><circle cx="447.06" cy="1589.37" r="4.6" fill="url(#db)"/><circle cx="466.55" cy="1608.7" r="4.6" fill="url(#db)"/><circle cx="458.15" cy="1615.04" r="4.6" fill="url(#db)"/><circle cx="553.24" cy="1602.36" r="4.6" fill="url(#db)"/><circle cx="518.37" cy="1624.23" r="4.6" fill="url(#db)"/><circle cx="488.26" cy="1626.13" r="4.6" fill="url(#db)"/><circle cx="455.77" cy="1648.32" r="4.6" fill="url(#db)"/></g><g filter="url(#bl3)"><circle cx="419.6" cy="1182.65" r="4.83" fill="url(#dr)"/><circle cx="399.79" cy="1233.05" r="4.83" fill="url(#dy)"/><circle cx="241.31" cy="1251.59" r="4.83" fill="url(#dr)"/><circle cx="359.06" cy="1311.02" r="4.83" fill="url(#dr)"/><circle cx="430.69" cy="1352.23" r="4.83" fill="url(#dr)"/><circle cx="289.65" cy="1372.04" r="4.83" fill="url(#dr)"/><circle cx="316.27" cy="1376.32" r="4.83" fill="url(#dr)"/><circle cx="287.75" cy="1423.28" r="4.83" fill="url(#dr)"/><circle cx="310.25" cy="1429.62" r="4.83" fill="url(#dr)"/><circle cx="321.66" cy="1463.22" r="4.83" fill="url(#dy)"/><circle cx="338.46" cy="1481.92" r="4.83" fill="url(#dr)"/><circle cx="341.15" cy="1525.97" r="4.83" fill="url(#dr)"/><circle cx="380.77" cy="1540.55" r="4.83" fill="url(#dr)"/><circle cx="351.45" cy="1591.58" r="4.83" fill="url(#dy)"/><circle cx="376.02" cy="1601.57" r="4.83" fill="url(#dr)"/><circle cx="485.88" cy="1211.5" r="4.83" fill="url(#dr)"/><circle cx="550.07" cy="1221.48" r="4.83" fill="url(#dr)"/><circle cx="471.62" cy="1225.76" r="4.83" fill="url(#dy)"/><circle cx="603.16" cy="1246.05" r="4.83" fill="url(#dr)"/><circle cx="624.55" cy="1243.19" r="4.83" fill="url(#dr)"/><circle cx="667.34" cy="1288.84" r="4.83" fill="url(#dr)"/><circle cx="548.48" cy="1297.08" r="4.83" fill="url(#dy)"/><circle cx="655.14" cy="1320.85" r="4.83" fill="url(#dy)"/><circle cx="596.5" cy="1334.48" r="4.83" fill="url(#dr)"/><circle cx="597.61" cy="1360.15" r="4.83" fill="url(#dr)"/><circle cx="650.7" cy="1358.57" r="4.83" fill="url(#dr)"/><circle cx="433.58" cy="1354.6" r="4.83" fill="url(#dr)"/><circle cx="660.21" cy="1457.35" r="4.83" fill="url(#dr)"/><circle cx="605.53" cy="1476.37" r="4.83" fill="url(#dr)"/><circle cx="560.68" cy="1509.18" r="4.83" fill="url(#dy)"/><circle cx="443.89" cy="1507.27" r="4.83" fill="url(#dr)"/><circle cx="550.07" cy="1537.39" r="4.83" fill="url(#dr)"/><circle cx="579.7" cy="1542.93" r="4.83" fill="url(#dy)"/><circle cx="445.95" cy="1606.32" r="4.83" fill="url(#dr)"/><ellipse cx="331" cy="1494" rx="9.2" ry="4.83" transform="rotate(12 331 1494)" fill="url(#dw)"/></g>
<path d="M419.31 1284.3L421.94 1284.32L424.58 1284.37L427.21 1284.44L429.84 1284.54M439.95 1285.16L442.56 1285.39L445.16 1285.64L447.76 1285.92L450.35 1286.22M460.25 1287.64L462.79 1288.06L465.32 1288.52L467.84 1289L470.35 1289.5M479.89 1291.68L482.33 1292.3L484.75 1292.95L487.16 1293.62L489.54 1294.32M498.57 1297.23L500.86 1298.04L503.14 1298.87L505.39 1299.73L507.62 1300.6M515.99 1304.19L518.1 1305.18L520.19 1306.18L522.25 1307.21L524.29 1308.25M531.87 1312.47L533.77 1313.61L535.64 1314.77L537.48 1315.95L539.29 1317.15M545.97 1321.93L547.63 1323.21L549.25 1324.5L550.84 1325.82L552.39 1327.15M558.06 1332.41L559.45 1333.81L560.8 1335.23L562.11 1336.65L563.39 1338.09M567.95 1343.76L569.05 1345.26L570.1 1346.77L571.12 1348.29L572.1 1349.81M575.49 1355.79L576.28 1357.37L577.02 1358.94L577.72 1360.53L578.39 1362.12M580.55 1368.32L581.02 1369.94L581.44 1371.57L581.82 1373.2L582.16 1374.83M583.07 1381.15L583.2 1382.79L583.29 1384.44L583.34 1386.09L583.35 1387.73M582.98 1394.07L582.79 1395.71L582.55 1397.35L582.27 1398.99L581.94 1400.62M580.31 1406.89L579.78 1408.5L579.22 1410.11L578.61 1411.71L577.96 1413.3M575.08 1419.39L574.24 1420.95L573.36 1422.5L572.43 1424.04L571.47 1425.57M567.39 1431.38L566.24 1432.87L565.05 1434.34L563.83 1435.79L562.57 1437.24M557.36 1442.68L555.92 1444.06L554.44 1445.43L552.94 1446.78L551.39 1448.11M545.13 1453.11L543.43 1454.36L541.69 1455.6L539.93 1456.82L538.13 1458.03M530.91 1462.49L528.97 1463.6L527 1464.7L525 1465.77L522.98 1466.82M514.92 1470.69L512.77 1471.64L510.6 1472.57L508.4 1473.48L506.18 1474.36M497.42 1477.57L495.09 1478.35L492.75 1479.1L490.39 1479.83L488.01 1480.53M478.67 1483.02L476.21 1483.61L473.73 1484.18L471.24 1484.71L468.74 1485.23M458.97 1486.97L456.41 1487.36L453.84 1487.72L451.26 1488.06L448.68 1488.38M438.64 1489.34L436.02 1489.53L433.4 1489.69L430.77 1489.82L428.14 1489.93M417.99 1490.1L415.36 1490.08L412.72 1490.03L410.09 1489.96L407.46 1489.86M397.35 1489.24L394.74 1489.01L392.14 1488.76L389.54 1488.48L386.95 1488.18M377.05 1486.76L374.51 1486.34L371.98 1485.88L369.46 1485.4L366.95 1484.9M357.41 1482.72L354.97 1482.1L352.55 1481.45L350.14 1480.78L347.76 1480.08M338.73 1477.17L336.44 1476.36L334.16 1475.53L331.91 1474.67L329.68 1473.8M321.31 1470.21L319.2 1469.22L317.11 1468.22L315.05 1467.19L313.01 1466.15M305.43 1461.93L303.53 1460.79L301.66 1459.63L299.82 1458.45L298.01 1457.25M291.33 1452.47L289.67 1451.19L288.05 1449.9L286.46 1448.58L284.91 1447.25M279.24 1441.99L277.85 1440.59L276.5 1439.17L275.19 1437.75L273.91 1436.31M269.35 1430.64L268.25 1429.14L267.2 1427.63L266.18 1426.11L265.2 1424.59M261.81 1418.61L261.02 1417.03L260.28 1415.46L259.58 1413.87L258.91 1412.28M256.75 1406.08L256.28 1404.46L255.86 1402.83L255.48 1401.2L255.14 1399.57M254.23 1393.25L254.1 1391.61L254.01 1389.96L253.96 1388.31L253.95 1386.67M254.32 1380.33L254.51 1378.69L254.75 1377.05L255.03 1375.41L255.36 1373.78M256.99 1367.51L257.52 1365.9L258.08 1364.29L258.69 1362.69L259.34 1361.1M262.22 1355.01L263.06 1353.45L263.94 1351.9L264.87 1350.36L265.83 1348.83M269.91 1343.02L271.06 1341.53L272.25 1340.06L273.47 1338.61L274.73 1337.16M279.94 1331.72L281.38 1330.34L282.86 1328.97L284.36 1327.62L285.91 1326.29M292.17 1321.29L293.87 1320.04L295.61 1318.8L297.37 1317.58L299.17 1316.37M306.39 1311.91L308.33 1310.8L310.3 1309.7L312.3 1308.63L314.32 1307.58M322.38 1303.71L324.53 1302.76L326.7 1301.83L328.9 1300.92L331.12 1300.04M339.88 1296.83L342.21 1296.05L344.55 1295.3L346.91 1294.57L349.29 1293.87M358.63 1291.38L361.09 1290.79L363.57 1290.22L366.06 1289.69L368.56 1289.17M378.33 1287.43L380.89 1287.04L383.46 1286.68L386.04 1286.34L388.62 1286.02M398.66 1285.06L401.28 1284.87L403.9 1284.71L406.53 1284.58L409.16 1284.47" fill="none" stroke="#fff" stroke-width="2.5" stroke-linecap="butt"/>
<circle cx="317.8" cy="1375.1" r="10.3" fill="none" stroke="#fff" stroke-width="2.4"/>
<circle cx="417.6" cy="1364.4" r="10.3" fill="none" stroke="#fff" stroke-width="2.4"/>
<circle cx="497.4" cy="1389.3" r="10.3" fill="none" stroke="#fff" stroke-width="2.4"/>
<circle cx="335.3" cy="1429.4" r="10.3" fill="none" stroke="#fff" stroke-width="2.4"/>
<circle cx="445.2" cy="1507.8" r="10.3" fill="none" stroke="#fff" stroke-width="2.4"/>
<path d="M413.6 1382.2L426.2 1394.8M413.6 1394.8L426.2 1382.2" stroke="#fff" stroke-width="2.4" fill="none"/>
<rect x="1170.6" y="1110" width="632.2" height="571" fill="#000"/>
<rect x="1184.2" y="1112.8" width="3" height="2.6" fill="#fff"/>
<rect x="1197.98" y="1112.8" width="3" height="7.5" fill="#fff"/>
<rect x="1211.76" y="1112.8" width="3" height="2.6" fill="#fff"/>
<rect x="1225.54" y="1112.8" width="3" height="2.6" fill="#fff"/>
<rect x="1239.32" y="1112.8" width="3" height="2.6" fill="#fff"/>
<rect x="1253.1" y="1112.8" width="3" height="2.6" fill="#fff"/>
<rect x="1266.88" y="1112.8" width="3" height="7.5" fill="#fff"/>
<rect x="1280.66" y="1112.8" width="3" height="2.6" fill="#fff"/>
<rect x="1294.44" y="1112.8" width="3" height="2.6" fill="#fff"/>
<rect x="1308.22" y="1112.8" width="3" height="2.6" fill="#fff"/>
<rect x="1322" y="1112.8" width="3" height="2.6" fill="#fff"/>
<rect x="1335.78" y="1112.8" width="3" height="7.5" fill="#fff"/>
<rect x="1349.56" y="1112.8" width="3" height="2.6" fill="#fff"/>
<rect x="1363.34" y="1112.8" width="3" height="2.6" fill="#fff"/>
<rect x="1377.12" y="1112.8" width="3" height="2.6" fill="#fff"/>
<rect x="1390.9" y="1112.8" width="3" height="2.6" fill="#fff"/>
<rect x="1404.68" y="1112.8" width="3" height="7.5" fill="#fff"/>
<rect x="1418.46" y="1112.8" width="3" height="2.6" fill="#fff"/>
<rect x="1432.24" y="1112.8" width="3" height="2.6" fill="#fff"/>
<rect x="1446.02" y="1112.8" width="3" height="2.6" fill="#fff"/>
<rect x="1459.8" y="1112.8" width="3" height="2.6" fill="#fff"/>
<rect x="1473.58" y="1112.8" width="3" height="7.5" fill="#fff"/>
<rect x="1487.36" y="1112.8" width="3" height="2.6" fill="#fff"/>
<rect x="1501.14" y="1112.8" width="3" height="2.6" fill="#fff"/>
<rect x="1514.92" y="1112.8" width="3" height="2.6" fill="#fff"/>
<rect x="1528.7" y="1112.8" width="3" height="2.6" fill="#fff"/>
<rect x="1542.48" y="1112.8" width="3" height="7.5" fill="#fff"/>
<rect x="1556.26" y="1112.8" width="3" height="2.6" fill="#fff"/>
<rect x="1570.04" y="1112.8" width="3" height="2.6" fill="#fff"/>
<rect x="1583.82" y="1112.8" width="3" height="2.6" fill="#fff"/>
<rect x="1597.6" y="1112.8" width="3" height="2.6" fill="#fff"/>
<rect x="1611.38" y="1112.8" width="3" height="7.5" fill="#fff"/>
<rect x="1625.16" y="1112.8" width="3" height="2.6" fill="#fff"/>
<rect x="1638.94" y="1112.8" width="3" height="2.6" fill="#fff"/>
<rect x="1652.72" y="1112.8" width="3" height="2.6" fill="#fff"/>
<rect x="1666.5" y="1112.8" width="3" height="2.6" fill="#fff"/>
<rect x="1680.28" y="1112.8" width="3" height="7.5" fill="#fff"/>
<rect x="1694.06" y="1112.8" width="3" height="2.6" fill="#fff"/>
<rect x="1707.84" y="1112.8" width="3" height="2.6" fill="#fff"/>
<rect x="1721.62" y="1112.8" width="3" height="2.6" fill="#fff"/>
<rect x="1735.4" y="1112.8" width="3" height="2.6" fill="#fff"/>
<rect x="1749.18" y="1112.8" width="3" height="7.5" fill="#fff"/>
<rect x="1762.96" y="1112.8" width="3" height="2.6" fill="#fff"/>
<rect x="1776.74" y="1112.8" width="3" height="2.6" fill="#fff"/>
<rect x="1790.52" y="1112.8" width="3" height="2.6" fill="#fff"/>
<rect x="1175.5" y="1676" width="3" height="2.7" fill="#fff"/>
<rect x="1189.04" y="1676" width="3" height="2.7" fill="#fff"/>
<rect x="1202.58" y="1671.2" width="3" height="7.5" fill="#fff"/>
<rect x="1216.12" y="1676" width="3" height="2.7" fill="#fff"/>
<rect x="1229.66" y="1676" width="3" height="2.7" fill="#fff"/>
<rect x="1243.2" y="1676" width="3" height="2.7" fill="#fff"/>
<rect x="1256.74" y="1676" width="3" height="2.7" fill="#fff"/>
<rect x="1270.28" y="1671.2" width="3" height="7.5" fill="#fff"/>
<rect x="1283.82" y="1676" width="3" height="2.7" fill="#fff"/>
<rect x="1297.36" y="1676" width="3" height="2.7" fill="#fff"/>
<rect x="1310.9" y="1676" width="3" height="2.7" fill="#fff"/>
<rect x="1324.44" y="1676" width="3" height="2.7" fill="#fff"/>
<rect x="1337.98" y="1671.2" width="3" height="7.5" fill="#fff"/>
<rect x="1351.52" y="1676" width="3" height="2.7" fill="#fff"/>
<rect x="1365.06" y="1676" width="3" height="2.7" fill="#fff"/>
<rect x="1378.6" y="1676" width="3" height="2.7" fill="#fff"/>
<rect x="1392.14" y="1676" width="3" height="2.7" fill="#fff"/>
<rect x="1405.68" y="1671.2" width="3" height="7.5" fill="#fff"/>
<rect x="1419.22" y="1676" width="3" height="2.7" fill="#fff"/>
<rect x="1432.76" y="1676" width="3" height="2.7" fill="#fff"/>
<rect x="1446.3" y="1676" width="3" height="2.7" fill="#fff"/>
<rect x="1459.84" y="1676" width="3" height="2.7" fill="#fff"/>
<rect x="1473.38" y="1671.2" width="3" height="7.5" fill="#fff"/>
<rect x="1486.92" y="1676" width="3" height="2.7" fill="#fff"/>
<rect x="1500.46" y="1676" width="3" height="2.7" fill="#fff"/>
<rect x="1514" y="1676" width="3" height="2.7" fill="#fff"/>
<rect x="1527.54" y="1676" width="3" height="2.7" fill="#fff"/>
<rect x="1541.08" y="1671.2" width="3" height="7.5" fill="#fff"/>
<rect x="1554.62" y="1676" width="3" height="2.7" fill="#fff"/>
<rect x="1568.16" y="1676" width="3" height="2.7" fill="#fff"/>
<rect x="1581.7" y="1676" width="3" height="2.7" fill="#fff"/>
<rect x="1595.24" y="1676" width="3" height="2.7" fill="#fff"/>
<rect x="1608.78" y="1671.2" width="3" height="7.5" fill="#fff"/>
<rect x="1622.32" y="1676" width="3" height="2.7" fill="#fff"/>
<rect x="1635.86" y="1676" width="3" height="2.7" fill="#fff"/>
<rect x="1649.4" y="1676" width="3" height="2.7" fill="#fff"/>
<rect x="1662.94" y="1676" width="3" height="2.7" fill="#fff"/>
<rect x="1676.48" y="1671.2" width="3" height="7.5" fill="#fff"/>
<rect x="1690.02" y="1676" width="3" height="2.7" fill="#fff"/>
<rect x="1703.56" y="1676" width="3" height="2.7" fill="#fff"/>
<rect x="1717.1" y="1676" width="3" height="2.7" fill="#fff"/>
<rect x="1730.64" y="1676" width="3" height="2.7" fill="#fff"/>
<rect x="1744.18" y="1671.2" width="3" height="7.5" fill="#fff"/>
<rect x="1757.72" y="1676" width="3" height="2.7" fill="#fff"/>
<rect x="1771.26" y="1676" width="3" height="2.7" fill="#fff"/>
<rect x="1784.8" y="1676" width="3" height="2.7" fill="#fff"/>
<rect x="1798.34" y="1676" width="3" height="2.7" fill="#fff"/>
<rect x="1173" y="1123.4" width="2.9" height="3" fill="#fff"/>
<rect x="1797.8" y="1123.4" width="3.2" height="3" fill="#fff"/>
<rect x="1173" y="1145.18" width="7.3" height="3" fill="#fff"/>
<rect x="1794" y="1145.18" width="7" height="3" fill="#fff"/>
<rect x="1173" y="1166.96" width="2.9" height="3" fill="#fff"/>
<rect x="1797.8" y="1166.96" width="3.2" height="3" fill="#fff"/>
<rect x="1173" y="1188.74" width="2.9" height="3" fill="#fff"/>
<rect x="1797.8" y="1188.74" width="3.2" height="3" fill="#fff"/>
<rect x="1173" y="1210.52" width="2.9" height="3" fill="#fff"/>
<rect x="1797.8" y="1210.52" width="3.2" height="3" fill="#fff"/>
<rect x="1173" y="1232.3" width="2.9" height="3" fill="#fff"/>
<rect x="1797.8" y="1232.3" width="3.2" height="3" fill="#fff"/>
<rect x="1173" y="1254.08" width="7.3" height="3" fill="#fff"/>
<rect x="1794" y="1254.08" width="7" height="3" fill="#fff"/>
<rect x="1173" y="1275.86" width="2.9" height="3" fill="#fff"/>
<rect x="1797.8" y="1275.86" width="3.2" height="3" fill="#fff"/>
<rect x="1173" y="1297.64" width="2.9" height="3" fill="#fff"/>
<rect x="1797.8" y="1297.64" width="3.2" height="3" fill="#fff"/>
<rect x="1173" y="1319.42" width="2.9" height="3" fill="#fff"/>
<rect x="1797.8" y="1319.42" width="3.2" height="3" fill="#fff"/>
<rect x="1173" y="1341.2" width="2.9" height="3" fill="#fff"/>
<rect x="1797.8" y="1341.2" width="3.2" height="3" fill="#fff"/>
<rect x="1173" y="1362.98" width="7.3" height="3" fill="#fff"/>
<rect x="1794" y="1362.98" width="7" height="3" fill="#fff"/>
<rect x="1173" y="1384.76" width="2.9" height="3" fill="#fff"/>
<rect x="1797.8" y="1384.76" width="3.2" height="3" fill="#fff"/>
<rect x="1173" y="1406.54" width="2.9" height="3" fill="#fff"/>
<rect x="1797.8" y="1406.54" width="3.2" height="3" fill="#fff"/>
<rect x="1173" y="1428.32" width="2.9" height="3" fill="#fff"/>
<rect x="1797.8" y="1428.32" width="3.2" height="3" fill="#fff"/>
<rect x="1173" y="1450.1" width="2.9" height="3" fill="#fff"/>
<rect x="1797.8" y="1450.1" width="3.2" height="3" fill="#fff"/>
<rect x="1173" y="1471.88" width="7.3" height="3" fill="#fff"/>
<rect x="1794" y="1471.88" width="7" height="3" fill="#fff"/>
<rect x="1173" y="1493.66" width="2.9" height="3" fill="#fff"/>
<rect x="1797.8" y="1493.66" width="3.2" height="3" fill="#fff"/>
<rect x="1173" y="1515.44" width="2.9" height="3" fill="#fff"/>
<rect x="1797.8" y="1515.44" width="3.2" height="3" fill="#fff"/>
<rect x="1173" y="1537.22" width="2.9" height="3" fill="#fff"/>
<rect x="1797.8" y="1537.22" width="3.2" height="3" fill="#fff"/>
<rect x="1173" y="1559" width="2.9" height="3" fill="#fff"/>
<rect x="1797.8" y="1559" width="3.2" height="3" fill="#fff"/>
<rect x="1173" y="1580.78" width="7.3" height="3" fill="#fff"/>
<rect x="1794" y="1580.78" width="7" height="3" fill="#fff"/>
<rect x="1173" y="1602.56" width="2.9" height="3" fill="#fff"/>
<rect x="1797.8" y="1602.56" width="3.2" height="3" fill="#fff"/>
<rect x="1173" y="1624.34" width="2.9" height="3" fill="#fff"/>
<rect x="1797.8" y="1624.34" width="3.2" height="3" fill="#fff"/>
<rect x="1173" y="1646.12" width="2.9" height="3" fill="#fff"/>
<rect x="1797.8" y="1646.12" width="3.2" height="3" fill="#fff"/>
<rect x="1173" y="1667.9" width="2.9" height="3" fill="#fff"/>
<rect x="1797.8" y="1667.9" width="3.2" height="3" fill="#fff"/>
<g filter="url(#bl2)"><circle cx="1402.65" cy="1132.24" r="4.6" fill="url(#db)"/><circle cx="1433.15" cy="1127.16" r="4.6" fill="url(#db)"/><circle cx="1473.67" cy="1128.75" r="4.6" fill="url(#db)"/><circle cx="1418.86" cy="1140.98" r="4.6" fill="url(#db)"/><circle cx="1468.9" cy="1140.98" r="4.6" fill="url(#db)"/><circle cx="1427.59" cy="1166.4" r="4.6" fill="url(#db)"/><circle cx="1364.04" cy="1174.82" r="4.6" fill="url(#db)"/><circle cx="1388.35" cy="1174.82" r="4.6" fill="url(#db)"/><circle cx="1362.93" cy="1191.03" r="4.6" fill="url(#db)"/><circle cx="1448.72" cy="1196.59" r="4.6" fill="url(#db)"/><circle cx="1336.55" cy="1208.51" r="4.6" fill="url(#db)"/><circle cx="1283.81" cy="1218.04" r="4.6" fill="url(#db)"/><circle cx="1386.28" cy="1232.02" r="4.6" fill="url(#db)"/><circle cx="1464.14" cy="1239.97" r="4.6" fill="url(#db)"/><circle cx="1486.38" cy="1235.52" r="4.6" fill="url(#db)"/><circle cx="1358.16" cy="1250.13" r="4.6" fill="url(#db)"/><circle cx="1372.46" cy="1248.54" r="4.6" fill="url(#db)"/><circle cx="1409" cy="1250.61" r="4.6" fill="url(#db)"/><circle cx="1477.64" cy="1253.31" r="4.6" fill="url(#db)"/><circle cx="1356.57" cy="1260.94" r="4.6" fill="url(#db)"/><circle cx="1331.47" cy="1267.29" r="4.6" fill="url(#db)"/><circle cx="1380.41" cy="1272.85" r="4.6" fill="url(#db)"/><circle cx="1288.25" cy="1279.69" r="4.6" fill="url(#db)"/><circle cx="1381.04" cy="1284.77" r="4.6" fill="url(#db)"/><circle cx="1323.84" cy="1292.71" r="4.6" fill="url(#db)"/><circle cx="1467.79" cy="1289.22" r="4.6" fill="url(#db)"/><circle cx="1406.94" cy="1298.75" r="4.6" fill="url(#db)"/><circle cx="1453.49" cy="1297.48" r="4.6" fill="url(#db)"/><circle cx="1456.99" cy="1303.84" r="4.6" fill="url(#db)"/><circle cx="1466.2" cy="1299.39" r="4.6" fill="url(#db)"/><circle cx="1297.31" cy="1303.04" r="4.6" fill="url(#db)"/><circle cx="1286.19" cy="1312.1" r="4.6" fill="url(#db)"/><circle cx="1252.35" cy="1317.34" r="4.6" fill="url(#db)"/><circle cx="1459.37" cy="1318.45" r="4.6" fill="url(#db)"/><circle cx="1416.47" cy="1324.17" r="4.6" fill="url(#db)"/><circle cx="1366.74" cy="1327.35" r="4.6" fill="url(#db)"/><circle cx="1358.48" cy="1333.71" r="4.6" fill="url(#db)"/><circle cx="1414.09" cy="1335.61" r="4.6" fill="url(#db)"/><circle cx="1428.71" cy="1335.29" r="4.6" fill="url(#db)"/><circle cx="1283.01" cy="1329.57" r="4.6" fill="url(#db)"/><circle cx="1280.31" cy="1343.56" r="4.6" fill="url(#db)"/><circle cx="1265.06" cy="1354.68" r="4.6" fill="url(#db)"/><circle cx="1486.38" cy="1342.76" r="4.6" fill="url(#db)"/><circle cx="1340.21" cy="1363.89" r="4.6" fill="url(#db)"/><circle cx="1316.85" cy="1369.29" r="4.6" fill="url(#db)"/><circle cx="1277.77" cy="1379.3" r="4.6" fill="url(#db)"/><circle cx="1323.84" cy="1384.55" r="4.6" fill="url(#db)"/><circle cx="1358.48" cy="1383.59" r="4.6" fill="url(#db)"/><circle cx="1440.3" cy="1387.72" r="4.6" fill="url(#db)"/><circle cx="1288.89" cy="1392.81" r="4.6" fill="url(#db)"/><circle cx="1249.65" cy="1403.15" r="4.6" fill="url(#db)"/><circle cx="1288.89" cy="1396" r="4.6" fill="url(#db)"/><circle cx="1459.37" cy="1398.38" r="4.6" fill="url(#db)"/><circle cx="1350.54" cy="1412.68" r="4.6" fill="url(#db)"/><circle cx="1364.04" cy="1418.24" r="4.6" fill="url(#db)"/><circle cx="1480.02" cy="1412.68" r="4.6" fill="url(#db)"/><circle cx="1440.3" cy="1426.98" r="4.6" fill="url(#db)"/><circle cx="1434.43" cy="1435.72" r="4.6" fill="url(#db)"/><circle cx="1476.85" cy="1429.05" r="4.6" fill="url(#db)"/><circle cx="1322.73" cy="1455.1" r="4.6" fill="url(#db)"/><circle cx="1455.72" cy="1453.99" r="4.6" fill="url(#db)"/><circle cx="1403.28" cy="1463.05" r="4.6" fill="url(#db)"/><circle cx="1421.24" cy="1466.23" r="4.6" fill="url(#db)"/><circle cx="1483.2" cy="1468.29" r="4.6" fill="url(#db)"/><circle cx="1292.54" cy="1474.17" r="4.6" fill="url(#db)"/><circle cx="1302.87" cy="1477.03" r="4.6" fill="url(#db)"/><circle cx="1376.75" cy="1473.53" r="4.6" fill="url(#db)"/><circle cx="1215.8" cy="1482.11" r="4.6" fill="url(#db)"/><circle cx="1409" cy="1492.12" r="4.6" fill="url(#db)"/><circle cx="1369.6" cy="1504.83" r="4.6" fill="url(#db)"/><circle cx="1383.11" cy="1507.53" r="4.6" fill="url(#db)"/><circle cx="1430.77" cy="1514.37" r="4.6" fill="url(#db)"/><circle cx="1360.07" cy="1530.25" r="4.6" fill="url(#db)"/><circle cx="1424.89" cy="1542.49" r="4.6" fill="url(#db)"/><circle cx="1394.23" cy="1549.8" r="4.6" fill="url(#db)"/><circle cx="1296.52" cy="1558.38" r="4.6" fill="url(#db)"/><circle cx="1363.25" cy="1562.03" r="4.6" fill="url(#db)"/><circle cx="1430.77" cy="1578.71" r="4.6" fill="url(#db)"/><circle cx="1441.1" cy="1575.85" r="4.6" fill="url(#db)"/><circle cx="1452.22" cy="1578.71" r="4.6" fill="url(#db)"/><circle cx="1475.73" cy="1602.23" r="4.6" fill="url(#db)"/><circle cx="1483.68" cy="1609.22" r="4.6" fill="url(#db)"/><circle cx="1440.3" cy="1639.41" r="4.6" fill="url(#db)"/><circle cx="1377.23" cy="1652.12" r="4.6" fill="url(#db)"/><circle cx="1387.08" cy="1654.18" r="4.6" fill="url(#db)"/><circle cx="1605.37" cy="1127.79" r="4.6" fill="url(#db)"/><circle cx="1493.36" cy="1144.16" r="4.6" fill="url(#db)"/><circle cx="1547.06" cy="1147.81" r="4.6" fill="url(#db)"/><circle cx="1560.88" cy="1145.27" r="4.6" fill="url(#db)"/><circle cx="1568.82" cy="1145.27" r="4.6" fill="url(#db)"/><circle cx="1577.24" cy="1150.51" r="4.6" fill="url(#db)"/><circle cx="1597.9" cy="1145.27" r="4.6" fill="url(#db)"/><circle cx="1534.35" cy="1157.35" r="4.6" fill="url(#db)"/><circle cx="1627.61" cy="1160.52" r="4.6" fill="url(#db)"/><circle cx="1652.55" cy="1164.81" r="4.6" fill="url(#db)"/><circle cx="1592.66" cy="1165.29" r="4.6" fill="url(#db)"/><circle cx="1583.6" cy="1170.69" r="4.6" fill="url(#db)"/><circle cx="1578.83" cy="1204.06" r="4.6" fill="url(#db)"/><circle cx="1643.5" cy="1206.6" r="4.6" fill="url(#db)"/><circle cx="1537.05" cy="1218.83" r="4.6" fill="url(#db)"/><circle cx="1490.5" cy="1235.52" r="4.6" fill="url(#db)"/><circle cx="1505.27" cy="1239.97" r="4.6" fill="url(#db)"/><circle cx="1548.65" cy="1243.46" r="4.6" fill="url(#db)"/><circle cx="1715.79" cy="1257.44" r="4.6" fill="url(#db)"/><circle cx="1723.42" cy="1262.21" r="4.6" fill="url(#db)"/><circle cx="1714.2" cy="1268.88" r="4.6" fill="url(#db)"/><circle cx="1596.63" cy="1264.12" r="4.6" fill="url(#db)"/><circle cx="1598.53" cy="1274.44" r="4.6" fill="url(#db)"/><circle cx="1500.5" cy="1268.09" r="4.6" fill="url(#db)"/><circle cx="1635.08" cy="1286.36" r="4.6" fill="url(#db)"/><circle cx="1537.84" cy="1290.81" r="4.6" fill="url(#db)"/><circle cx="1603.78" cy="1293.51" r="4.6" fill="url(#db)"/><circle cx="1618.55" cy="1297.16" r="4.6" fill="url(#db)"/><circle cx="1628.4" cy="1295.89" r="4.6" fill="url(#db)"/><circle cx="1625.54" cy="1306.7" r="4.6" fill="url(#db)"/><circle cx="1548.65" cy="1310.51" r="4.6" fill="url(#db)"/><circle cx="1570.41" cy="1314.64" r="4.6" fill="url(#db)"/><circle cx="1609.34" cy="1312.57" r="4.6" fill="url(#db)"/><circle cx="1737.24" cy="1320.52" r="4.6" fill="url(#db)"/><circle cx="1597.9" cy="1325.76" r="4.6" fill="url(#db)"/><circle cx="1562.47" cy="1332.12" r="4.6" fill="url(#db)"/><circle cx="1560.09" cy="1340.7" r="4.6" fill="url(#db)"/><circle cx="1586.3" cy="1342.76" r="4.6" fill="url(#db)"/><circle cx="1488.59" cy="1341.97" r="4.6" fill="url(#db)"/><circle cx="1645.56" cy="1342.28" r="4.6" fill="url(#db)"/><circle cx="1660.18" cy="1339.11" r="4.6" fill="url(#db)"/><circle cx="1545.79" cy="1357.06" r="4.6" fill="url(#db)"/><circle cx="1616.49" cy="1371.36" r="4.6" fill="url(#db)"/><circle cx="1669.71" cy="1376.6" r="4.6" fill="url(#db)"/><circle cx="1716.58" cy="1382.01" r="4.6" fill="url(#db)"/><circle cx="1496.22" cy="1377.72" r="4.6" fill="url(#db)"/><circle cx="1504.16" cy="1382.96" r="4.6" fill="url(#db)"/><circle cx="1611.72" cy="1389.63" r="4.6" fill="url(#db)"/><circle cx="1627.61" cy="1392.49" r="4.6" fill="url(#db)"/><circle cx="1749.15" cy="1390.9" r="4.6" fill="url(#db)"/><circle cx="1745.18" cy="1394.4" r="4.6" fill="url(#db)"/><circle cx="1512.42" cy="1395.19" r="4.6" fill="url(#db)"/><circle cx="1513.22" cy="1397.59" r="4.6" fill="url(#db)"/><circle cx="1601.08" cy="1404.74" r="4.6" fill="url(#db)"/><circle cx="1617.6" cy="1415.86" r="4.6" fill="url(#db)"/><circle cx="1573.59" cy="1432.22" r="4.6" fill="url(#db)"/><circle cx="1727.71" cy="1412.68" r="4.6" fill="url(#db)"/><circle cx="1746.29" cy="1397.59" r="4.6" fill="url(#db)"/><circle cx="1751.54" cy="1406.8" r="4.6" fill="url(#db)"/><circle cx="1743.12" cy="1423.8" r="4.6" fill="url(#db)"/><circle cx="1702.76" cy="1444.94" r="4.6" fill="url(#db)"/><circle cx="1738.35" cy="1443.98" r="4.6" fill="url(#db)"/><circle cx="1664.63" cy="1450.34" r="4.6" fill="url(#db)"/><circle cx="1723.73" cy="1459.55" r="4.6" fill="url(#db)"/><circle cx="1764.72" cy="1455.58" r="4.6" fill="url(#db)"/><circle cx="1664.95" cy="1468.29" r="4.6" fill="url(#db)"/><circle cx="1732.47" cy="1477.82" r="4.6" fill="url(#db)"/><circle cx="1513.69" cy="1455.58" r="4.6" fill="url(#db)"/><circle cx="1531.17" cy="1453.99" r="4.6" fill="url(#db)"/><circle cx="1561.67" cy="1461.94" r="4.6" fill="url(#db)"/><circle cx="1559.77" cy="1473.06" r="4.6" fill="url(#db)"/><circle cx="1535.94" cy="1484.18" r="4.6" fill="url(#db)"/><circle cx="1594.24" cy="1486.24" r="4.6" fill="url(#db)"/><circle cx="1599.49" cy="1504.83" r="4.6" fill="url(#db)"/><circle cx="1649.06" cy="1505.63" r="4.6" fill="url(#db)"/><circle cx="1524.34" cy="1519.61" r="4.6" fill="url(#db)"/><circle cx="1540.7" cy="1516.43" r="4.6" fill="url(#db)"/><circle cx="1591.86" cy="1527.87" r="4.6" fill="url(#db)"/><circle cx="1602.19" cy="1535.02" r="4.6" fill="url(#db)"/><circle cx="1636.35" cy="1532.96" r="4.6" fill="url(#db)"/><circle cx="1649.06" cy="1529.14" r="4.6" fill="url(#db)"/><circle cx="1587.89" cy="1581.89" r="4.6" fill="url(#db)"/><circle cx="1607.43" cy="1602.86" r="4.6" fill="url(#db)"/><circle cx="1639.84" cy="1602.23" r="4.6" fill="url(#db)"/><circle cx="1487.79" cy="1608.9" r="4.6" fill="url(#db)"/><circle cx="1538.16" cy="1615.26" r="4.6" fill="url(#db)"/><circle cx="1555.64" cy="1620.34" r="4.6" fill="url(#db)"/><circle cx="1530.22" cy="1649.42" r="4.6" fill="url(#db)"/></g><g filter="url(#bl3)"><circle cx="1357.21" cy="1225.19" r="4.83" fill="url(#dr)"/><circle cx="1471.29" cy="1361.83" r="4.83" fill="url(#dr)"/><circle cx="1369.28" cy="1500.86" r="4.83" fill="url(#dr)"/><circle cx="1361.34" cy="1525.97" r="4.83" fill="url(#dr)"/><circle cx="1407.73" cy="1627.65" r="4.83" fill="url(#dr)"/><circle cx="1376.75" cy="1648.62" r="4.83" fill="url(#dr)"/><circle cx="1607.75" cy="1428.57" r="4.83" fill="url(#dr)"/><circle cx="1527.51" cy="1433.34" r="4.83" fill="url(#dr)"/><circle cx="1504.5" cy="1508.5" r="6.67" fill="url(#dw)"/></g>
<path d="M1477.8 1272.3L1480.6 1272.32L1483.39 1272.37L1486.19 1272.45L1488.98 1272.55M1499.71 1273.21L1502.49 1273.45L1505.25 1273.72L1508.01 1274.02L1510.76 1274.34M1521.27 1275.83L1523.97 1276.29L1526.66 1276.77L1529.34 1277.28L1532.01 1277.81M1542.13 1280.12L1544.72 1280.78L1547.3 1281.46L1549.85 1282.18L1552.39 1282.91M1561.97 1285.99L1564.41 1286.85L1566.82 1287.73L1569.21 1288.64L1571.58 1289.57M1580.47 1293.37L1582.71 1294.42L1584.93 1295.48L1587.12 1296.57L1589.28 1297.67M1597.34 1302.14L1599.35 1303.35L1601.34 1304.58L1603.29 1305.83L1605.21 1307.1M1612.31 1312.16L1614.06 1313.51L1615.79 1314.89L1617.47 1316.28L1619.13 1317.69M1625.15 1323.26L1626.62 1324.75L1628.05 1326.24L1629.44 1327.76L1630.8 1329.28M1635.65 1335.28L1636.81 1336.87L1637.93 1338.47L1639.01 1340.08L1640.05 1341.7M1643.65 1348.03L1644.49 1349.7L1645.28 1351.37L1646.02 1353.05L1646.73 1354.74M1649.03 1361.3L1649.52 1363.02L1649.97 1364.74L1650.37 1366.47L1650.73 1368.2M1651.7 1374.89L1651.84 1376.63L1651.94 1378.38L1651.99 1380.12L1652 1381.86M1651.61 1388.58L1651.4 1390.32L1651.15 1392.05L1650.85 1393.79L1650.51 1395.52M1648.77 1402.15L1648.21 1403.86L1647.61 1405.56L1646.97 1407.26L1646.28 1408.95M1643.22 1415.4L1642.33 1417.05L1641.39 1418.69L1640.41 1420.33L1639.38 1421.95M1635.06 1428.1L1633.83 1429.67L1632.57 1431.23L1631.27 1432.77L1629.93 1434.3M1624.4 1440.07L1622.87 1441.53L1621.3 1442.98L1619.7 1444.41L1618.06 1445.82M1611.42 1451.11L1609.61 1452.44L1607.76 1453.76L1605.89 1455.05L1603.98 1456.32M1596.32 1461.06L1594.25 1462.23L1592.16 1463.39L1590.04 1464.53L1587.89 1465.64M1579.34 1469.74L1577.05 1470.75L1574.74 1471.73L1572.41 1472.69L1570.05 1473.63M1560.75 1477.03L1558.28 1477.85L1555.79 1478.65L1553.28 1479.42L1550.75 1480.16M1540.83 1482.81L1538.22 1483.43L1535.59 1484.02L1532.95 1484.59L1530.29 1485.14M1519.92 1486.98L1517.2 1487.4L1514.47 1487.78L1511.73 1488.14L1508.99 1488.47M1498.33 1489.49L1495.55 1489.69L1492.76 1489.86L1489.97 1490L1487.18 1490.12M1476.4 1490.3L1473.6 1490.28L1470.81 1490.23L1468.01 1490.15L1465.22 1490.05M1454.49 1489.39L1451.71 1489.15L1448.95 1488.88L1446.19 1488.58L1443.44 1488.26M1432.93 1486.77L1430.23 1486.31L1427.54 1485.83L1424.86 1485.32L1422.19 1484.79M1412.07 1482.48L1409.48 1481.82L1406.9 1481.14L1404.35 1480.42L1401.81 1479.69M1392.23 1476.61L1389.79 1475.75L1387.38 1474.87L1384.99 1473.96L1382.62 1473.03M1373.73 1469.23L1371.49 1468.18L1369.27 1467.12L1367.08 1466.03L1364.92 1464.93M1356.86 1460.46L1354.85 1459.25L1352.86 1458.02L1350.91 1456.77L1348.99 1455.5M1341.89 1450.44L1340.14 1449.09L1338.41 1447.71L1336.73 1446.32L1335.07 1444.91M1329.05 1439.34L1327.58 1437.85L1326.15 1436.36L1324.76 1434.84L1323.4 1433.32M1318.55 1427.32L1317.39 1425.73L1316.27 1424.13L1315.19 1422.52L1314.15 1420.9M1310.55 1414.57L1309.71 1412.9L1308.92 1411.23L1308.18 1409.55L1307.47 1407.86M1305.17 1401.3L1304.68 1399.58L1304.23 1397.86L1303.83 1396.13L1303.47 1394.4M1302.5 1387.71L1302.36 1385.97L1302.26 1384.22L1302.21 1382.48L1302.2 1380.74M1302.59 1374.02L1302.8 1372.28L1303.05 1370.55L1303.35 1368.81L1303.69 1367.08M1305.43 1360.45L1305.99 1358.74L1306.59 1357.04L1307.23 1355.34L1307.92 1353.65M1310.98 1347.2L1311.87 1345.55L1312.81 1343.91L1313.79 1342.27L1314.82 1340.65M1319.14 1334.5L1320.37 1332.93L1321.63 1331.37L1322.93 1329.83L1324.27 1328.3M1329.8 1322.53L1331.33 1321.07L1332.9 1319.62L1334.5 1318.19L1336.14 1316.78M1342.78 1311.49L1344.59 1310.16L1346.44 1308.84L1348.31 1307.55L1350.22 1306.28M1357.88 1301.54L1359.95 1300.37L1362.04 1299.21L1364.16 1298.07L1366.31 1296.96M1374.86 1292.86L1377.15 1291.85L1379.46 1290.87L1381.79 1289.91L1384.15 1288.97M1393.45 1285.57L1395.92 1284.75L1398.41 1283.95L1400.92 1283.18L1403.45 1282.44M1413.37 1279.79L1415.98 1279.17L1418.61 1278.58L1421.25 1278.01L1423.91 1277.46M1434.28 1275.62L1437 1275.2L1439.73 1274.82L1442.47 1274.46L1445.21 1274.13M1455.87 1273.11L1458.65 1272.91L1461.44 1272.74L1464.23 1272.6L1467.02 1272.48" fill="none" stroke="#fff" stroke-width="2.5" stroke-linecap="butt"/>
<circle cx="1369" cy="1369.1" r="10.8" fill="none" stroke="#fff" stroke-width="2.4"/>
<circle cx="1475.2" cy="1357.8" r="10.8" fill="none" stroke="#fff" stroke-width="2.4"/>
<circle cx="1560.2" cy="1384.1" r="10.8" fill="none" stroke="#fff" stroke-width="2.4"/>
<circle cx="1387.4" cy="1426" r="10.8" fill="none" stroke="#fff" stroke-width="2.4"/>
<circle cx="1504" cy="1509.2" r="10.8" fill="none" stroke="#fff" stroke-width="2.4"/>
<path d="M1470.6 1377.6L1483.6 1390.6M1470.6 1390.6L1483.6 1377.6" stroke="#fff" stroke-width="2.4" fill="none"/>
<rect x="1443.5" y="3.5" width="93.3" height="1079.5" fill="#3a3a3a"/>
<rect x="1445" y="5" width="90.3" height="1076.5" fill="url(#cm)"/>
<rect x="1536.3" y="220.6" width="4" height="1.4" fill="#222"/>
<rect x="1536.3" y="436.5" width="4" height="1.4" fill="#222"/>
<rect x="1536.3" y="652.4" width="4" height="1.4" fill="#222"/>
<rect x="1536.3" y="868.2" width="4" height="1.4" fill="#222"/>
<rect x="756.4" y="1084.8" width="61" height="712.4" fill="#3a3a3a"/>
<rect x="757.6" y="1086" width="58.6" height="710" fill="url(#cm)"/>
<rect x="816.9" y="1229.2" width="3.5" height="1.4" fill="#222"/>
<rect x="816.9" y="1371" width="3.5" height="1.4" fill="#222"/>
<rect x="816.9" y="1512.8" width="3.5" height="1.4" fill="#222"/>
<rect x="816.9" y="1654.6" width="3.5" height="1.4" fill="#222"/>
<rect x="1825.3" y="1086" width="61.3" height="711.2" fill="#3a3a3a"/>
<rect x="1826.5" y="1087.2" width="58.9" height="708.8" fill="url(#cm)"/>
<rect x="1886.1" y="1229.2" width="3.5" height="1.4" fill="#222"/>
<rect x="1886.1" y="1371" width="3.5" height="1.4" fill="#222"/>
<rect x="1886.1" y="1512.8" width="3.5" height="1.4" fill="#222"/>
<rect x="1886.1" y="1654.6" width="3.5" height="1.4" fill="#222"/>
<text transform="translate(426.08,147.7) scale(0.9829,1)" font-size="46.8" fill="#000">05</text>
<text transform="translate(353.19,303.1) scale(0.9530,1)" font-size="46.8" fill="#000">-65:10</text>
<text transform="translate(426.08,458.3) scale(0.9829,1)" font-size="46.8" fill="#000">15</text>
<text transform="translate(426.15,613.9) scale(0.9829,1)" font-size="46.8" fill="#000">20</text>
<text transform="translate(426.08,769.3) scale(0.9829,1)" font-size="46.8" fill="#000">25</text>
<text transform="translate(509.31,949.2)" font-size="45.1" fill="#000">51</text>
<text transform="translate(605.68,949.2)" font-size="45.1" fill="#000">50</text>
<text transform="translate(671.38,949.2)" font-size="45.1" fill="#000">14:50</text>
<text transform="translate(799.57,949.2)" font-size="45.1" fill="#000">49</text>
<text transform="translate(896.24,949.2)" font-size="45.1" fill="#000">49</text>
<text transform="translate(992.84,949.2)" font-size="45.1" fill="#000">48</text>
<text transform="translate(1089.51,949.2)" font-size="45.1" fill="#000">48</text>
<text transform="translate(1185.98,949.2)" font-size="45.1" fill="#000">47</text>
<text transform="translate(1282.65,949.2)" font-size="45.1" fill="#000">47</text>
<text transform="translate(1379.43,949.2)" font-size="45.1" fill="#000">46</text>
<text transform="translate(595.46,1050.4) scale(0.9805,1)" font-size="68.09" fill="#000">Right Ascension [J2000]</text>
<text transform="translate(337.3,737.87) rotate(-90) scale(0.9796,1)" font-size="68.09" fill="#000">Declination [J2000]</text>
<text transform="translate(1740.8,756.7) rotate(-90) scale(0.9572,1)" font-size="66.8" fill="#000">Smoothed Counts</text>
<text transform="translate(1547.72,235.2) scale(0.9490,1)" font-size="46.6" fill="#000">0.064</text>
<text transform="translate(1547.72,451.1) scale(0.9490,1)" font-size="46.6" fill="#000">0.048</text>
<text transform="translate(1547.72,667) scale(0.9490,1)" font-size="46.6" fill="#000">0.032</text>
<text transform="translate(1547.72,882.8) scale(0.9490,1)" font-size="46.6" fill="#000">0.016</text>
<text transform="translate(978.26,868.3) scale(0.9442,1)" font-size="59.1" fill="#fff">XRT-Total Band</text>
<text transform="translate(697.3,411.8) scale(1.0111,1)" font-size="29.02" fill="#fff">HD 130079</text>
<text transform="translate(900.56,396.4) scale(1.0152,1)" font-size="29.02" fill="#fff">C2</text>
<text transform="translate(1023,434.4) scale(0.9863,1)" font-size="29.02" fill="#fff">C1</text>
<text transform="translate(775.98,492.6) scale(1.0721,1)" font-size="27.18" fill="#fff">C3</text>
<text transform="translate(950.36,611.3) scale(1.1345,1)" font-size="27.18" fill="#fff">S</text>
<text transform="translate(92.52,1181.7) scale(1.0066,1)" font-size="30.4" fill="#000">05</text>
<text transform="translate(45.03,1284.8) scale(0.9635,1)" font-size="30.4" fill="#000">-65:10</text>
<text transform="translate(92.52,1388.1) scale(1.0066,1)" font-size="30.4" fill="#000">15</text>
<text transform="translate(92.57,1490.9) scale(1.0066,1)" font-size="30.4" fill="#000">20</text>
<text transform="translate(92.52,1592.9) scale(1.0066,1)" font-size="30.4" fill="#000">25</text>
<text transform="translate(147.37,1713.1) scale(0.9933,1)" font-size="29.8" fill="#000">51</text>
<text transform="translate(211.07,1713.1) scale(0.9933,1)" font-size="29.8" fill="#000">50</text>
<text transform="translate(254.65,1713.1) scale(0.9933,1)" font-size="29.8" fill="#000">14:50</text>
<text transform="translate(339.23,1713.1) scale(0.9933,1)" font-size="29.8" fill="#000">49</text>
<text transform="translate(403.13,1713.1) scale(0.9933,1)" font-size="29.8" fill="#000">49</text>
<text transform="translate(466.99,1713.1) scale(0.9933,1)" font-size="29.8" fill="#000">48</text>
<text transform="translate(530.89,1713.1) scale(0.9933,1)" font-size="29.8" fill="#000">48</text>
<text transform="translate(594.66,1713.1) scale(0.9933,1)" font-size="29.8" fill="#000">47</text>
<text transform="translate(658.56,1713.1) scale(0.9933,1)" font-size="29.8" fill="#000">47</text>
<text transform="translate(203.95,1778.6) scale(1.0417,1)" font-size="42.15" fill="#000">Right Ascension [J2000]</text>
<text transform="translate(33.7,1572.98) rotate(-90) scale(0.9975,1)" font-size="44.21" fill="#000">Declination [J2000]</text>
<text transform="translate(951.8,1593.25) rotate(-90) scale(0.9641,1)" font-size="43.75" fill="#000">Smoothed Counts</text>
<text transform="translate(824.67,1239.4) scale(0.9688,1)" font-size="30.6" fill="#000">0.048</text>
<text transform="translate(824.67,1381.2) scale(0.9688,1)" font-size="30.6" fill="#000">0.036</text>
<text transform="translate(824.67,1523) scale(0.9688,1)" font-size="30.6" fill="#000">0.024</text>
<text transform="translate(824.67,1664.8) scale(0.9688,1)" font-size="30.6" fill="#000">0.012</text>
<text transform="translate(473.32,1653.9) scale(1.0073,1)" font-size="36.5" fill="#fff">XRT-Soft Band</text>
<text transform="translate(271.67,1356.4) scale(1.0138,1)" font-size="19.09" fill="#fff">HD 130079</text>
<text transform="translate(405.55,1345.7) scale(1.0986,1)" font-size="17.72" fill="#fff">C2</text>
<text transform="translate(485.79,1370.6) scale(1.0468,1)" font-size="17.72" fill="#fff">C1</text>
<text transform="translate(323.04,1410.7) scale(1.1149,1)" font-size="17.72" fill="#fff">C3</text>
<text transform="translate(438.37,1488.2) scale(1.2443,1)" font-size="17.1" fill="#fff">S</text>
<text transform="translate(1135.41,1163.6) scale(0.9805,1)" font-size="30.8" fill="#000">05</text>
<text transform="translate(1087.73,1272.6) scale(0.9485,1)" font-size="30.8" fill="#000">-65:10</text>
<text transform="translate(1135.41,1381.9) scale(0.9805,1)" font-size="30.8" fill="#000">15</text>
<text transform="translate(1135.45,1490.2) scale(0.9805,1)" font-size="30.8" fill="#000">20</text>
<text transform="translate(1135.41,1599.1) scale(0.9805,1)" font-size="30.8" fill="#000">25</text>
<text transform="translate(1189.47,1718.3) scale(0.9933,1)" font-size="29.8" fill="#000">51</text>
<text transform="translate(1256.98,1718.3) scale(0.9933,1)" font-size="29.8" fill="#000">50</text>
<text transform="translate(1304.37,1718.3) scale(0.9933,1)" font-size="29.8" fill="#000">14:50</text>
<text transform="translate(1392.76,1718.3) scale(0.9933,1)" font-size="29.8" fill="#000">49</text>
<text transform="translate(1460.47,1718.3) scale(0.9933,1)" font-size="29.8" fill="#000">49</text>
<text transform="translate(1528.14,1718.3) scale(0.9933,1)" font-size="29.8" fill="#000">48</text>
<text transform="translate(1595.85,1718.3) scale(0.9933,1)" font-size="29.8" fill="#000">48</text>
<text transform="translate(1663.43,1718.3) scale(0.9933,1)" font-size="29.8" fill="#000">47</text>
<text transform="translate(1731.14,1718.3) scale(0.9933,1)" font-size="29.8" fill="#000">47</text>
<text transform="translate(1258.25,1783.8) scale(1.0228,1)" font-size="43.03" fill="#000">Right Ascension [J2000]</text>
<text transform="translate(1076.8,1578.27) rotate(-90) scale(0.9857,1)" font-size="44.66" fill="#000">Declination [J2000]</text>
<text transform="translate(2017.9,1602.14) rotate(-90) scale(0.9652,1)" font-size="43.61" fill="#000">Smoothed Counts</text>
<text transform="translate(1893.37,1239.4) scale(0.9658,1)" font-size="30.6" fill="#000">0.048</text>
<text transform="translate(1893.37,1381.2) scale(0.9658,1)" font-size="30.6" fill="#000">0.036</text>
<text transform="translate(1893.37,1523) scale(0.9658,1)" font-size="30.6" fill="#000">0.024</text>
<text transform="translate(1893.37,1664.8) scale(0.9658,1)" font-size="30.6" fill="#000">0.012</text>
<text transform="translate(1527.02,1660.6) scale(0.9771,1)" font-size="37.57" fill="#fff">XRT-Hard Band</text>
<text transform="translate(1323.17,1350.3) scale(0.9569,1)" font-size="20.16" fill="#fff">HD 130079</text>
<text transform="translate(1462.95,1338) scale(1.1378,1)" font-size="17.1" fill="#fff">C2</text>
<text transform="translate(1548.18,1364.4) scale(1.1845,1)" font-size="15.88" fill="#fff">C1</text>
<text transform="translate(1375.55,1406.3) scale(1.1707,1)" font-size="16.65" fill="#fff">C3</text>
<text transform="translate(1497.94,1489.4) scale(1.2154,1)" font-size="17.87" fill="#fff">S</text>
</svg>
</body></html>
